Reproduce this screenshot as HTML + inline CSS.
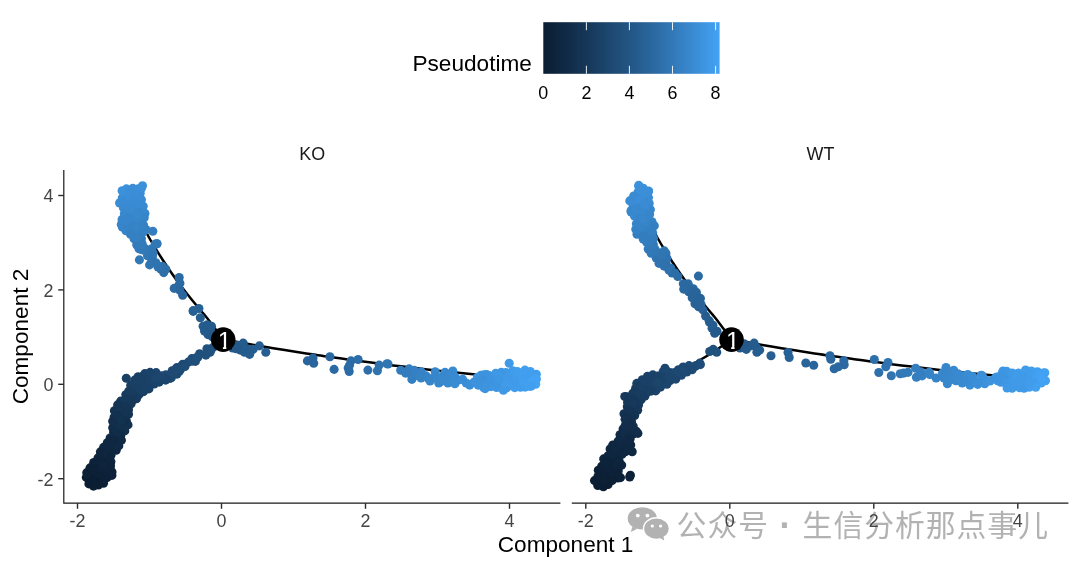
<!DOCTYPE html>
<html><head><meta charset="utf-8"><title>Trajectory</title>
<style>
html,body{margin:0;padding:0;background:#fff}
body{width:1080px;height:568px;overflow:hidden}
svg{display:block}
text{font-family:"Liberation Sans","Noto Sans CJK SC",sans-serif}
.at{font-size:17.9px;fill:#444}
.lt{font-size:17.9px;fill:#000}
.ti{font-size:22.6px;fill:#000}
.st{font-size:17.9px;fill:#1a1a1a}
.wm{font-size:29.8px;fill:#b2b2b2;font-family:"Liberation Sans","Noto Sans CJK SC",sans-serif;letter-spacing:1.0px}
</style></head><body>
<svg width="1080" height="568" viewBox="0 0 1080 568">
<defs><linearGradient id="g" x1="0" x2="1" y1="0" y2="0"><stop offset="0.000" stop-color="#0b1d32"/><stop offset="0.050" stop-color="#0d2239"/><stop offset="0.100" stop-color="#0f2741"/><stop offset="0.150" stop-color="#112c49"/><stop offset="0.200" stop-color="#143251"/><stop offset="0.250" stop-color="#163859"/><stop offset="0.300" stop-color="#193e62"/><stop offset="0.350" stop-color="#1b446b"/><stop offset="0.400" stop-color="#1e4a74"/><stop offset="0.450" stop-color="#21517e"/><stop offset="0.500" stop-color="#235787"/><stop offset="0.550" stop-color="#265e91"/><stop offset="0.600" stop-color="#29659c"/><stop offset="0.650" stop-color="#2c6ca6"/><stop offset="0.700" stop-color="#3074b1"/><stop offset="0.750" stop-color="#337bbc"/><stop offset="0.800" stop-color="#3683c7"/><stop offset="0.850" stop-color="#398bd2"/><stop offset="0.900" stop-color="#3d93de"/><stop offset="0.950" stop-color="#409be9"/><stop offset="1.000" stop-color="#44a3f5"/></linearGradient></defs>
<rect width="1080" height="568" fill="#fff"/>
<rect x="543.3" y="22.2" width="176.3" height="51.6" fill="url(#g)"/>
<path d="M586.4 22.2v8M586.4 73.8v-8" stroke="#fff" stroke-width="1" opacity="0.9"/>
<path d="M629.4 22.2v8M629.4 73.8v-8" stroke="#fff" stroke-width="1" opacity="0.9"/>
<path d="M672.5 22.2v8M672.5 73.8v-8" stroke="#fff" stroke-width="1" opacity="0.9"/>
<path d="M715.6 22.2v8M715.6 73.8v-8" stroke="#fff" stroke-width="1" opacity="0.9"/>
<text x="543.3" y="98.6" text-anchor="middle" class="lt">0</text>
<text x="586.4" y="98.6" text-anchor="middle" class="lt">2</text>
<text x="629.4" y="98.6" text-anchor="middle" class="lt">4</text>
<text x="672.5" y="98.6" text-anchor="middle" class="lt">6</text>
<text x="715.6" y="98.6" text-anchor="middle" class="lt">8</text>
<text x="412.5" y="70.7" class="ti">Pseudotime</text>
<text x="312.3" y="159.6" text-anchor="middle" class="st">KO</text>
<text x="820.5" y="159.6" text-anchor="middle" class="st">WT</text>
<g>
<g fill="#b2b2b2">
<ellipse cx="642.3" cy="518.4" rx="14.6" ry="11.2"/>
<path d="M632.5 526.5l-1.8 5.6 6.3-3z"/>
</g>
<ellipse cx="656.4" cy="528.6" rx="13.6" ry="11.6" fill="#fff"/>
<g fill="#b2b2b2">
<ellipse cx="656.4" cy="528.6" rx="12.2" ry="10.2"/>
<path d="M659 537.5l5.2 3 -1-5.5z"/>
</g>
<g fill="#fff"><circle cx="637.8" cy="515.6" r="1.9"/><circle cx="647.4" cy="515.6" r="1.9"/><circle cx="652.3" cy="526" r="1.6"/><circle cx="660.6" cy="526" r="1.6"/></g>
<text x="676.6" y="535.8" class="wm">公众号</text>
<text x="784.4" y="538.8" class="wm" text-anchor="middle" style="letter-spacing:0;font-size:52px">·</text>
<text x="802.6" y="535.8" class="wm">生信分析那点事儿</text>
</g>
<path d="M63.8 170V503.2H560.4" fill="none" stroke="#1a1a1a" stroke-width="1.2"/>
<path d="M571.8 503.2H1068.4" fill="none" stroke="#1a1a1a" stroke-width="1.2"/>
<path d="M58.2 478.7H63.8" stroke="#2b2b2b" stroke-width="1.4"/>
<text x="53.5" y="485.6" text-anchor="end" class="at">-2</text>
<path d="M77.5 503.2V508.8" stroke="#2b2b2b" stroke-width="1.4"/>
<text x="77.5" y="527.2" text-anchor="middle" class="at">-2</text>
<path d="M585.8 503.2V508.8" stroke="#2b2b2b" stroke-width="1.4"/>
<text x="585.8" y="527.2" text-anchor="middle" class="at">-2</text>
<path d="M58.2 384.3H63.8" stroke="#2b2b2b" stroke-width="1.4"/>
<text x="53.5" y="391.2" text-anchor="end" class="at">0</text>
<path d="M221.5 503.2V508.8" stroke="#2b2b2b" stroke-width="1.4"/>
<text x="221.5" y="527.2" text-anchor="middle" class="at">0</text>
<path d="M729.8 503.2V508.8" stroke="#2b2b2b" stroke-width="1.4"/>
<text x="729.8" y="527.2" text-anchor="middle" class="at">0</text>
<path d="M58.2 289.9H63.8" stroke="#2b2b2b" stroke-width="1.4"/>
<text x="53.5" y="296.8" text-anchor="end" class="at">2</text>
<path d="M365.5 503.2V508.8" stroke="#2b2b2b" stroke-width="1.4"/>
<text x="365.5" y="527.2" text-anchor="middle" class="at">2</text>
<path d="M873.8 503.2V508.8" stroke="#2b2b2b" stroke-width="1.4"/>
<text x="873.8" y="527.2" text-anchor="middle" class="at">2</text>
<path d="M58.2 195.5H63.8" stroke="#2b2b2b" stroke-width="1.4"/>
<text x="53.5" y="202.4" text-anchor="end" class="at">4</text>
<path d="M509.5 503.2V508.8" stroke="#2b2b2b" stroke-width="1.4"/>
<text x="509.5" y="527.2" text-anchor="middle" class="at">4</text>
<path d="M1017.8 503.2V508.8" stroke="#2b2b2b" stroke-width="1.4"/>
<text x="1017.8" y="527.2" text-anchor="middle" class="at">4</text>
<g><path fill="none" stroke="#000" stroke-width="2.5" d="M223.2 339.6C221.0 336.7 213.2 326.1 210.1 322.0C207.0 317.9 207.8 318.9 204.5 314.9C201.2 310.9 195.1 303.9 190.4 298.0C185.7 292.1 181.0 286.2 176.3 279.7C171.6 273.2 167.0 266.5 162.3 259.2C157.6 251.9 151.9 242.9 148.2 236.0C144.5 229.1 142.4 224.0 140.0 218.0C137.6 212.0 135.0 203.0 134.0 200.0"/>
<path fill="none" stroke="#000" stroke-width="2.5" d="M223.2 339.6C226.5 340.2 236.5 342.0 243.2 343.1C249.9 344.3 256.5 345.4 263.2 346.5C269.9 347.6 276.5 348.7 283.2 349.8C289.9 350.9 296.5 351.9 303.2 352.9C309.9 353.9 316.5 355.0 323.2 355.9C329.9 356.9 336.5 357.9 343.2 358.8C349.9 359.7 356.5 360.7 363.2 361.5C369.9 362.4 376.5 363.3 383.2 364.2C389.9 365.0 396.5 365.8 403.2 366.6C409.9 367.4 416.5 368.2 423.2 369.0C429.9 369.8 436.5 370.5 443.2 371.2C449.9 371.9 456.5 372.6 463.2 373.3C469.9 374.0 476.5 374.6 483.2 375.3C489.9 375.9 499.9 376.8 503.2 377.1"/>
<path fill="none" stroke="#000" stroke-width="2.5" d="M223.2 339.6C220.2 341.7 210.5 348.4 205.0 352.0C199.5 355.6 195.0 358.2 190.0 361.0C185.0 363.8 180.0 366.4 175.0 369.0C170.0 371.6 164.5 374.3 160.0 376.5C155.5 378.7 151.8 379.9 148.0 382.0C144.2 384.1 140.5 385.8 137.0 389.0C133.5 392.2 129.7 396.7 127.0 401.0C124.3 405.3 122.7 410.2 121.0 415.0C119.3 419.8 118.5 425.0 117.0 430.0C115.5 435.0 114.0 440.0 112.0 445.0C110.0 450.0 107.5 455.2 105.0 460.0C102.5 464.8 98.3 471.7 97.0 474.0"/>
<circle cx="136.7" cy="194.5" r="4.55" fill="#3b8ed6"/>
<circle cx="103.5" cy="483.2" r="4.55" fill="#0b1f35"/>
<circle cx="124.8" cy="430.9" r="4.55" fill="#13304e"/>
<circle cx="498.8" cy="374.6" r="4.55" fill="#3e97e4"/>
<circle cx="458.4" cy="380.1" r="4.55" fill="#3a8bd3"/>
<circle cx="104.1" cy="469.7" r="4.55" fill="#0d233b"/>
<circle cx="499.7" cy="377.4" r="4.55" fill="#3f98e5"/>
<circle cx="147.5" cy="255.7" r="4.55" fill="#3177b5"/>
<circle cx="137.5" cy="233.4" r="4.55" fill="#3582c5"/>
<circle cx="454.9" cy="376.6" r="4.55" fill="#398ad2"/>
<circle cx="208.0" cy="334.6" r="4.55" fill="#24598a"/>
<circle cx="135.6" cy="202.9" r="4.55" fill="#3a8cd4"/>
<circle cx="400.7" cy="370.3" r="4.55" fill="#337bbb"/>
<circle cx="116.8" cy="436.7" r="4.55" fill="#102a45"/>
<circle cx="501.3" cy="372.4" r="4.55" fill="#3f97e4"/>
<circle cx="152.8" cy="231.2" r="4.55" fill="#347ec0"/>
<circle cx="535.7" cy="384.3" r="4.55" fill="#43a3f5"/>
<circle cx="134.1" cy="238.8" r="4.55" fill="#347ec0"/>
<circle cx="351.0" cy="360.9" r="4.55" fill="#2c6ca6"/>
<circle cx="113.4" cy="438.0" r="4.55" fill="#112b46"/>
<circle cx="132.6" cy="389.7" r="4.55" fill="#183b5e"/>
<circle cx="96.7" cy="480.5" r="4.55" fill="#0c2036"/>
<circle cx="162.3" cy="266.3" r="4.55" fill="#2e71ac"/>
<circle cx="142.7" cy="247.4" r="4.55" fill="#327ab9"/>
<circle cx="177.0" cy="374.1" r="4.55" fill="#1e4973"/>
<circle cx="511.4" cy="373.9" r="4.55" fill="#409bea"/>
<circle cx="90.9" cy="476.5" r="4.55" fill="#0c2137"/>
<circle cx="138.8" cy="394.7" r="4.55" fill="#183c60"/>
<circle cx="132.4" cy="221.4" r="4.55" fill="#3683c7"/>
<circle cx="193.2" cy="311.4" r="4.55" fill="#276094"/>
<circle cx="114.1" cy="417.1" r="4.55" fill="#13304e"/>
<circle cx="138.6" cy="216.8" r="4.55" fill="#3786cb"/>
<circle cx="131.5" cy="212.9" r="4.55" fill="#3888cd"/>
<circle cx="131.6" cy="201.2" r="4.55" fill="#3a8cd4"/>
<circle cx="147.4" cy="375.4" r="4.55" fill="#1b446b"/>
<circle cx="122.1" cy="219.4" r="4.55" fill="#3786cb"/>
<circle cx="144.6" cy="248.3" r="4.55" fill="#3279b8"/>
<circle cx="203.1" cy="326.2" r="4.55" fill="#255b8d"/>
<circle cx="160.8" cy="269.1" r="4.55" fill="#2e70ac"/>
<circle cx="486.6" cy="374.5" r="4.55" fill="#3d94e0"/>
<circle cx="143.6" cy="391.6" r="4.55" fill="#193f64"/>
<circle cx="110.1" cy="438.0" r="4.55" fill="#112b47"/>
<circle cx="104.9" cy="455.3" r="4.55" fill="#0f2741"/>
<circle cx="98.6" cy="462.9" r="4.55" fill="#0d233a"/>
<circle cx="178.5" cy="286.0" r="4.55" fill="#2b69a1"/>
<circle cx="132.9" cy="191.0" r="4.55" fill="#3c92dc"/>
<circle cx="409.1" cy="368.9" r="4.55" fill="#347ebf"/>
<circle cx="518.7" cy="383.7" r="4.55" fill="#419ceb"/>
<circle cx="100.3" cy="473.4" r="4.55" fill="#0d2138"/>
<circle cx="525.1" cy="387.1" r="4.55" fill="#429fef"/>
<circle cx="145.9" cy="229.5" r="4.55" fill="#3580c2"/>
<circle cx="157.0" cy="243.8" r="4.55" fill="#3178b6"/>
<circle cx="481.0" cy="375.2" r="4.55" fill="#3d93de"/>
<circle cx="126.8" cy="211.1" r="4.55" fill="#3888cf"/>
<circle cx="514.7" cy="387.6" r="4.55" fill="#419ceb"/>
<circle cx="142.1" cy="243.6" r="4.55" fill="#337cbd"/>
<circle cx="124.4" cy="220.4" r="4.55" fill="#3887cc"/>
<circle cx="136.0" cy="209.5" r="4.55" fill="#398ad1"/>
<circle cx="208.7" cy="330.4" r="4.55" fill="#245a8b"/>
<circle cx="107.8" cy="459.6" r="4.55" fill="#0e243d"/>
<circle cx="132.3" cy="224.6" r="4.55" fill="#3785ca"/>
<circle cx="109.5" cy="460.9" r="4.55" fill="#0e253e"/>
<circle cx="536.3" cy="374.3" r="4.55" fill="#419eee"/>
<circle cx="125.4" cy="223.9" r="4.55" fill="#3683c7"/>
<circle cx="118.6" cy="411.3" r="4.55" fill="#143352"/>
<circle cx="506.7" cy="385.1" r="4.55" fill="#3f98e5"/>
<circle cx="469.7" cy="385.1" r="4.55" fill="#3b8fd8"/>
<circle cx="504.1" cy="381.1" r="4.55" fill="#3f97e4"/>
<circle cx="179.9" cy="283.2" r="4.55" fill="#2b69a1"/>
<circle cx="153.4" cy="379.6" r="4.55" fill="#1b446b"/>
<circle cx="179.2" cy="277.5" r="4.55" fill="#2c6aa3"/>
<circle cx="128.7" cy="192.9" r="4.55" fill="#3b8ed6"/>
<circle cx="125.6" cy="216.4" r="4.55" fill="#3786cb"/>
<circle cx="529.0" cy="386.2" r="4.55" fill="#42a0f0"/>
<circle cx="495.0" cy="385.4" r="4.55" fill="#3d94e0"/>
<circle cx="533.2" cy="376.7" r="4.55" fill="#43a2f3"/>
<circle cx="100.8" cy="467.0" r="4.55" fill="#0d2239"/>
<circle cx="127.6" cy="226.6" r="4.55" fill="#3683c7"/>
<circle cx="509.2" cy="383.6" r="4.55" fill="#409bea"/>
<circle cx="127.7" cy="398.9" r="4.55" fill="#173b5e"/>
<circle cx="411.9" cy="375.9" r="4.55" fill="#347fc1"/>
<circle cx="123.9" cy="416.1" r="4.55" fill="#143352"/>
<circle cx="210.8" cy="350.1" r="4.55" fill="#21517f"/>
<circle cx="199.6" cy="353.7" r="4.55" fill="#204f7b"/>
<circle cx="506.7" cy="379.0" r="4.55" fill="#409ae8"/>
<circle cx="141.4" cy="238.7" r="4.55" fill="#337dbe"/>
<circle cx="136.8" cy="206.6" r="4.55" fill="#3889cf"/>
<circle cx="138.1" cy="393.4" r="4.55" fill="#193e62"/>
<circle cx="176.8" cy="367.6" r="4.55" fill="#1e4b75"/>
<circle cx="171.4" cy="377.6" r="4.55" fill="#1d4871"/>
<circle cx="434.5" cy="377.3" r="4.55" fill="#3786cb"/>
<circle cx="118.8" cy="445.9" r="4.55" fill="#102944"/>
<circle cx="130.4" cy="217.8" r="4.55" fill="#3887cc"/>
<circle cx="137.1" cy="201.3" r="4.55" fill="#3a8dd5"/>
<circle cx="120.1" cy="431.9" r="4.55" fill="#112c48"/>
<circle cx="136.7" cy="195.7" r="4.55" fill="#3b8ed7"/>
<circle cx="138.9" cy="388.9" r="4.55" fill="#193e63"/>
<circle cx="134.5" cy="191.2" r="4.55" fill="#3a8ed6"/>
<circle cx="120.6" cy="403.9" r="4.55" fill="#163758"/>
<circle cx="179.3" cy="371.3" r="4.55" fill="#1e4b76"/>
<circle cx="438.7" cy="383.0" r="4.55" fill="#3887cc"/>
<circle cx="122.4" cy="411.0" r="4.55" fill="#153555"/>
<circle cx="496.6" cy="384.0" r="4.55" fill="#3e97e4"/>
<circle cx="90.0" cy="471.1" r="4.55" fill="#0d2138"/>
<circle cx="240.4" cy="350.1" r="4.55" fill="#255a8c"/>
<circle cx="525.9" cy="379.6" r="4.55" fill="#419eee"/>
<circle cx="142.5" cy="185.8" r="4.55" fill="#3c90da"/>
<circle cx="129.8" cy="204.0" r="4.55" fill="#3a8bd3"/>
<circle cx="128.5" cy="409.8" r="4.55" fill="#153454"/>
<circle cx="127.7" cy="407.0" r="4.55" fill="#153657"/>
<circle cx="144.9" cy="376.4" r="4.55" fill="#1b436a"/>
<circle cx="512.8" cy="370.8" r="4.55" fill="#409be9"/>
<circle cx="211.5" cy="326.2" r="4.55" fill="#245a8b"/>
<circle cx="130.6" cy="198.9" r="4.55" fill="#3a8cd3"/>
<circle cx="170.0" cy="375.2" r="4.55" fill="#1d4770"/>
<circle cx="514.0" cy="376.9" r="4.55" fill="#419ceb"/>
<circle cx="520.5" cy="387.2" r="4.55" fill="#419ded"/>
<circle cx="135.1" cy="230.5" r="4.55" fill="#3581c4"/>
<circle cx="125.2" cy="423.5" r="4.55" fill="#122f4d"/>
<circle cx="519.5" cy="380.3" r="4.55" fill="#419ded"/>
<circle cx="172.2" cy="370.8" r="4.55" fill="#1d4770"/>
<circle cx="117.6" cy="417.1" r="4.55" fill="#133250"/>
<circle cx="518.0" cy="385.4" r="4.55" fill="#419ceb"/>
<circle cx="120.7" cy="401.1" r="4.55" fill="#16385a"/>
<circle cx="485.1" cy="381.1" r="4.55" fill="#3d94df"/>
<circle cx="134.6" cy="237.8" r="4.55" fill="#347ec0"/>
<circle cx="479.3" cy="380.4" r="4.55" fill="#3c92dc"/>
<circle cx="93.7" cy="462.5" r="4.55" fill="#0d223a"/>
<circle cx="407.0" cy="371.5" r="4.55" fill="#347dbe"/>
<circle cx="441.0" cy="381.5" r="4.55" fill="#3887cd"/>
<circle cx="140.5" cy="383.9" r="4.55" fill="#1a4167"/>
<circle cx="102.8" cy="461.4" r="4.55" fill="#0d233b"/>
<circle cx="98.0" cy="457.9" r="4.55" fill="#0e253d"/>
<circle cx="133.2" cy="199.2" r="4.55" fill="#3a8cd4"/>
<circle cx="496.6" cy="387.5" r="4.55" fill="#3e96e3"/>
<circle cx="117.8" cy="442.1" r="4.55" fill="#102843"/>
<circle cx="139.0" cy="209.6" r="4.55" fill="#3889cf"/>
<circle cx="490.0" cy="378.3" r="4.55" fill="#3d95e0"/>
<circle cx="200.3" cy="317.7" r="4.55" fill="#265e90"/>
<circle cx="481.1" cy="384.5" r="4.55" fill="#3d94df"/>
<circle cx="122.3" cy="227.1" r="4.55" fill="#3683c7"/>
<circle cx="232.7" cy="348.0" r="4.55" fill="#245989"/>
<circle cx="188.3" cy="362.1" r="4.55" fill="#1f4c78"/>
<circle cx="265.8" cy="352.3" r="4.55" fill="#275f92"/>
<circle cx="138.3" cy="188.7" r="4.55" fill="#3c90da"/>
<circle cx="136.9" cy="244.5" r="4.55" fill="#337cbc"/>
<circle cx="136.3" cy="224.2" r="4.55" fill="#3582c5"/>
<circle cx="139.7" cy="235.7" r="4.55" fill="#347ebf"/>
<circle cx="95.9" cy="474.9" r="4.55" fill="#0c2137"/>
<circle cx="527.6" cy="377.1" r="4.55" fill="#429fef"/>
<circle cx="477.4" cy="377.4" r="4.55" fill="#3d94df"/>
<circle cx="377.4" cy="370.8" r="4.55" fill="#2f73af"/>
<circle cx="107.1" cy="475.5" r="4.55" fill="#0d223a"/>
<circle cx="93.0" cy="474.8" r="4.55" fill="#0c2036"/>
<circle cx="113.6" cy="432.3" r="4.55" fill="#112b46"/>
<circle cx="367.9" cy="370.1" r="4.55" fill="#2e6faa"/>
<circle cx="101.9" cy="473.1" r="4.55" fill="#0c2137"/>
<circle cx="165.8" cy="269.1" r="4.55" fill="#2e6faa"/>
<circle cx="139.7" cy="238.1" r="4.55" fill="#347ebf"/>
<circle cx="141.4" cy="199.8" r="4.55" fill="#398bd3"/>
<circle cx="109.6" cy="464.7" r="4.55" fill="#0e243c"/>
<circle cx="103.6" cy="447.4" r="4.55" fill="#102843"/>
<circle cx="508.9" cy="374.6" r="4.55" fill="#3f99e7"/>
<circle cx="348.2" cy="368.0" r="4.55" fill="#2c6ca5"/>
<circle cx="428.1" cy="378.0" r="4.55" fill="#3684c8"/>
<circle cx="140.2" cy="193.3" r="4.55" fill="#3a8dd5"/>
<circle cx="114.4" cy="410.8" r="4.55" fill="#143352"/>
<circle cx="131.7" cy="226.8" r="4.55" fill="#3581c4"/>
<circle cx="473.9" cy="382.3" r="4.55" fill="#3c91da"/>
<circle cx="140.8" cy="249.3" r="4.55" fill="#327aba"/>
<circle cx="405.6" cy="373.1" r="4.55" fill="#337dbe"/>
<circle cx="112.5" cy="450.5" r="4.55" fill="#0f2740"/>
<circle cx="116.8" cy="418.7" r="4.55" fill="#13314f"/>
<circle cx="132.4" cy="230.1" r="4.55" fill="#3581c4"/>
<circle cx="126.4" cy="188.9" r="4.55" fill="#3c92dc"/>
<circle cx="484.6" cy="377.5" r="4.55" fill="#3d94e0"/>
<circle cx="138.0" cy="218.5" r="4.55" fill="#3786ca"/>
<circle cx="132.1" cy="189.9" r="4.55" fill="#3b8fd8"/>
<circle cx="132.6" cy="397.2" r="4.55" fill="#173a5c"/>
<circle cx="118.6" cy="407.4" r="4.55" fill="#153454"/>
<circle cx="144.8" cy="373.6" r="4.55" fill="#1b436a"/>
<circle cx="329.9" cy="356.7" r="4.55" fill="#2b68a0"/>
<circle cx="172.1" cy="372.0" r="4.55" fill="#1d4972"/>
<circle cx="531.5" cy="375.8" r="4.55" fill="#429fef"/>
<circle cx="481.5" cy="377.8" r="4.55" fill="#3e95e1"/>
<circle cx="182.7" cy="366.6" r="4.55" fill="#1f4c77"/>
<circle cx="447.9" cy="383.0" r="4.55" fill="#3889cf"/>
<circle cx="520.9" cy="378.1" r="4.55" fill="#429fef"/>
<circle cx="530.6" cy="383.1" r="4.55" fill="#43a1f2"/>
<circle cx="153.3" cy="383.0" r="4.55" fill="#1b436a"/>
<circle cx="159.2" cy="382.1" r="4.55" fill="#1b446b"/>
<circle cx="115.3" cy="448.2" r="4.55" fill="#0f2842"/>
<circle cx="142.9" cy="380.1" r="4.55" fill="#1b4269"/>
<circle cx="126.3" cy="378.2" r="4.55" fill="#193f64"/>
<circle cx="426.0" cy="375.9" r="4.55" fill="#3684c8"/>
<circle cx="502.2" cy="381.8" r="4.55" fill="#409ae8"/>
<circle cx="96.7" cy="477.0" r="4.55" fill="#0c2036"/>
<circle cx="86.8" cy="472.6" r="4.55" fill="#0c2037"/>
<circle cx="149.6" cy="264.9" r="4.55" fill="#3074b1"/>
<circle cx="118.5" cy="426.8" r="4.55" fill="#122f4c"/>
<circle cx="119.6" cy="203.0" r="4.55" fill="#3a8cd3"/>
<circle cx="130.5" cy="401.9" r="4.55" fill="#16385a"/>
<circle cx="313.0" cy="358.1" r="4.55" fill="#2a669d"/>
<circle cx="128.5" cy="414.2" r="4.55" fill="#143352"/>
<circle cx="510.3" cy="380.2" r="4.55" fill="#409bea"/>
<circle cx="144.9" cy="213.4" r="4.55" fill="#3785ca"/>
<circle cx="168.5" cy="375.6" r="4.55" fill="#1c476f"/>
<circle cx="106.6" cy="451.5" r="4.55" fill="#0e263f"/>
<circle cx="121.3" cy="224.4" r="4.55" fill="#3784c9"/>
<circle cx="151.7" cy="261.4" r="4.55" fill="#3074b1"/>
<circle cx="513.6" cy="373.4" r="4.55" fill="#409be9"/>
<circle cx="93.4" cy="471.6" r="4.55" fill="#0c2137"/>
<circle cx="501.6" cy="385.0" r="4.55" fill="#3e96e3"/>
<circle cx="129.8" cy="230.6" r="4.55" fill="#3683c6"/>
<circle cx="120.1" cy="202.6" r="4.55" fill="#3a8cd3"/>
<circle cx="122.3" cy="198.0" r="4.55" fill="#398bd2"/>
<circle cx="108.1" cy="446.4" r="4.55" fill="#0f2740"/>
<circle cx="112.7" cy="427.8" r="4.55" fill="#122d4a"/>
<circle cx="126.1" cy="198.3" r="4.55" fill="#3b90d9"/>
<circle cx="144.2" cy="217.8" r="4.55" fill="#3684c8"/>
<circle cx="111.3" cy="443.7" r="4.55" fill="#102843"/>
<circle cx="100.7" cy="481.7" r="4.55" fill="#0c1f35"/>
<circle cx="205.9" cy="355.1" r="4.55" fill="#20507d"/>
<circle cx="486.8" cy="377.1" r="4.55" fill="#3e96e2"/>
<circle cx="107.1" cy="477.6" r="4.55" fill="#0c2138"/>
<circle cx="128.4" cy="207.4" r="4.55" fill="#398ad0"/>
<circle cx="136.6" cy="211.5" r="4.55" fill="#3888ce"/>
<circle cx="141.1" cy="380.7" r="4.55" fill="#1a4167"/>
<circle cx="139.0" cy="225.4" r="4.55" fill="#3683c6"/>
<circle cx="138.3" cy="378.9" r="4.55" fill="#193f64"/>
<circle cx="118.1" cy="422.8" r="4.55" fill="#122f4c"/>
<circle cx="485.2" cy="388.6" r="4.55" fill="#3d93dd"/>
<circle cx="523.9" cy="376.1" r="4.55" fill="#419eed"/>
<circle cx="492.2" cy="377.2" r="4.55" fill="#3d93de"/>
<circle cx="157.6" cy="378.8" r="4.55" fill="#1c476f"/>
<circle cx="421.1" cy="371.7" r="4.55" fill="#3682c6"/>
<circle cx="147.8" cy="385.5" r="4.55" fill="#1b4369"/>
<circle cx="132.2" cy="205.5" r="4.55" fill="#3989d0"/>
<circle cx="211.5" cy="333.2" r="4.55" fill="#245989"/>
<circle cx="505.2" cy="377.2" r="4.55" fill="#3f99e7"/>
<circle cx="136.3" cy="388.5" r="4.55" fill="#193e63"/>
<circle cx="127.0" cy="403.8" r="4.55" fill="#16385a"/>
<circle cx="198.9" cy="308.5" r="4.55" fill="#276094"/>
<circle cx="121.6" cy="416.6" r="4.55" fill="#13314f"/>
<circle cx="388.0" cy="364.0" r="4.55" fill="#3076b4"/>
<circle cx="123.0" cy="204.1" r="4.55" fill="#3a8cd4"/>
<circle cx="105.8" cy="455.5" r="4.55" fill="#0e253d"/>
<circle cx="121.7" cy="427.1" r="4.55" fill="#122f4c"/>
<circle cx="133.5" cy="391.2" r="4.55" fill="#183d60"/>
<circle cx="123.9" cy="195.0" r="4.55" fill="#3b8ed6"/>
<circle cx="476.2" cy="382.5" r="4.55" fill="#3d93dd"/>
<circle cx="130.7" cy="205.7" r="4.55" fill="#398bd2"/>
<circle cx="128.0" cy="424.9" r="4.55" fill="#13304e"/>
<circle cx="140.8" cy="222.2" r="4.55" fill="#3581c5"/>
<circle cx="182.7" cy="295.2" r="4.55" fill="#2a669c"/>
<circle cx="132.3" cy="393.8" r="4.55" fill="#183c5f"/>
<circle cx="137.5" cy="390.7" r="4.55" fill="#183d61"/>
<circle cx="134.6" cy="234.7" r="4.55" fill="#3580c2"/>
<circle cx="148.4" cy="382.4" r="4.55" fill="#1a4167"/>
<circle cx="517.7" cy="374.2" r="4.55" fill="#419eee"/>
<circle cx="253.1" cy="349.4" r="4.55" fill="#265d90"/>
<circle cx="503.3" cy="388.0" r="4.55" fill="#409ae8"/>
<circle cx="138.6" cy="196.9" r="4.55" fill="#3a8dd6"/>
<circle cx="152.4" cy="257.1" r="4.55" fill="#3075b3"/>
<circle cx="349.6" cy="365.1" r="4.55" fill="#2c6ca6"/>
<circle cx="128.3" cy="192.8" r="4.55" fill="#3b8fd8"/>
<circle cx="181.7" cy="366.0" r="4.55" fill="#1e4b75"/>
<circle cx="120.8" cy="414.0" r="4.55" fill="#143352"/>
<circle cx="108.0" cy="458.0" r="4.55" fill="#0e253e"/>
<circle cx="182.7" cy="364.2" r="4.55" fill="#1e4b76"/>
<circle cx="441.5" cy="377.3" r="4.55" fill="#3887cd"/>
<circle cx="134.4" cy="383.7" r="4.55" fill="#1a4166"/>
<circle cx="141.4" cy="188.2" r="4.55" fill="#3b90da"/>
<circle cx="129.7" cy="396.0" r="4.55" fill="#173a5d"/>
<circle cx="528.5" cy="373.2" r="4.55" fill="#429fef"/>
<circle cx="141.6" cy="207.4" r="4.55" fill="#3a8cd3"/>
<circle cx="417.6" cy="374.5" r="4.55" fill="#3581c4"/>
<circle cx="206.9" cy="348.7" r="4.55" fill="#21517e"/>
<circle cx="99.2" cy="480.1" r="4.55" fill="#0b1e33"/>
<circle cx="170.2" cy="378.4" r="4.55" fill="#1d4871"/>
<circle cx="204.5" cy="331.1" r="4.55" fill="#255a8c"/>
<circle cx="491.0" cy="379.9" r="4.55" fill="#3e95e1"/>
<circle cx="106.4" cy="448.5" r="4.55" fill="#0f2740"/>
<circle cx="244.6" cy="352.3" r="4.55" fill="#255c8e"/>
<circle cx="126.5" cy="222.1" r="4.55" fill="#3683c6"/>
<circle cx="142.4" cy="376.6" r="4.55" fill="#1a4268"/>
<circle cx="174.5" cy="373.6" r="4.55" fill="#1d4973"/>
<circle cx="154.2" cy="384.0" r="4.55" fill="#1b436a"/>
<circle cx="452.8" cy="371.0" r="4.55" fill="#398ad1"/>
<circle cx="445.0" cy="372.4" r="4.55" fill="#3888ce"/>
<circle cx="492.1" cy="382.3" r="4.55" fill="#3e96e2"/>
<circle cx="387.0" cy="363.7" r="4.55" fill="#3076b3"/>
<circle cx="249.6" cy="354.4" r="4.55" fill="#265d8f"/>
<circle cx="135.0" cy="393.9" r="4.55" fill="#183c5f"/>
<circle cx="86.3" cy="477.4" r="4.55" fill="#0c1f35"/>
<circle cx="141.4" cy="388.1" r="4.55" fill="#193f65"/>
<circle cx="116.1" cy="427.9" r="4.55" fill="#112d49"/>
<circle cx="191.8" cy="358.6" r="4.55" fill="#1f4d79"/>
<circle cx="516.8" cy="377.7" r="4.55" fill="#409ae9"/>
<circle cx="133.1" cy="385.1" r="4.55" fill="#193e63"/>
<circle cx="127.0" cy="223.3" r="4.55" fill="#3682c6"/>
<circle cx="506.9" cy="387.6" r="4.55" fill="#3f98e6"/>
<circle cx="466.2" cy="383.0" r="4.55" fill="#3b8ed7"/>
<circle cx="505.9" cy="372.5" r="4.55" fill="#3f99e7"/>
<circle cx="97.5" cy="471.5" r="4.55" fill="#0c2138"/>
<circle cx="122.1" cy="190.7" r="4.55" fill="#3c91db"/>
<circle cx="134.7" cy="190.6" r="4.55" fill="#3c90da"/>
<circle cx="530.1" cy="376.0" r="4.55" fill="#43a2f3"/>
<circle cx="488.9" cy="375.5" r="4.55" fill="#3d94e0"/>
<circle cx="421.1" cy="378.0" r="4.55" fill="#3683c6"/>
<circle cx="136.5" cy="398.7" r="4.55" fill="#173b5e"/>
<circle cx="119.4" cy="406.1" r="4.55" fill="#163758"/>
<circle cx="499.1" cy="386.8" r="4.55" fill="#3e96e3"/>
<circle cx="132.7" cy="210.1" r="4.55" fill="#3888cf"/>
<circle cx="126.4" cy="421.1" r="4.55" fill="#13314f"/>
<circle cx="509.2" cy="363.2" r="4.55" fill="#409ae8"/>
<circle cx="126.0" cy="230.8" r="4.55" fill="#3683c7"/>
<circle cx="152.5" cy="376.5" r="4.55" fill="#1b4369"/>
<circle cx="505.0" cy="375.1" r="4.55" fill="#409ae8"/>
<circle cx="139.0" cy="229.3" r="4.55" fill="#3581c3"/>
<circle cx="526.9" cy="380.8" r="4.55" fill="#419eee"/>
<circle cx="129.7" cy="220.1" r="4.55" fill="#3786cb"/>
<circle cx="515.8" cy="379.1" r="4.55" fill="#409bea"/>
<circle cx="125.2" cy="407.3" r="4.55" fill="#153657"/>
<circle cx="115.7" cy="420.3" r="4.55" fill="#13304e"/>
<circle cx="102.9" cy="469.2" r="4.55" fill="#0d233b"/>
<circle cx="496.5" cy="379.7" r="4.55" fill="#3e95e1"/>
<circle cx="139.4" cy="382.1" r="4.55" fill="#1a4167"/>
<circle cx="98.3" cy="485.0" r="4.55" fill="#0b1e33"/>
<circle cx="138.1" cy="376.7" r="4.55" fill="#193f64"/>
<circle cx="198.0" cy="357.0" r="4.55" fill="#204f7b"/>
<circle cx="174.2" cy="288.4" r="4.55" fill="#2b69a1"/>
<circle cx="483.8" cy="387.9" r="4.55" fill="#3d94df"/>
<circle cx="163.7" cy="272.6" r="4.55" fill="#2e6faa"/>
<circle cx="156.9" cy="243.7" r="4.55" fill="#3178b6"/>
<circle cx="125.8" cy="394.7" r="4.55" fill="#17395c"/>
<circle cx="99.4" cy="461.6" r="4.55" fill="#0d223a"/>
<circle cx="486.9" cy="379.9" r="4.55" fill="#3e95e1"/>
<circle cx="450.0" cy="376.6" r="4.55" fill="#3989d0"/>
<circle cx="146.7" cy="380.1" r="4.55" fill="#1b4269"/>
<circle cx="133.3" cy="399.9" r="4.55" fill="#173a5c"/>
<circle cx="108.8" cy="451.1" r="4.55" fill="#0f2740"/>
<circle cx="529.6" cy="381.3" r="4.55" fill="#429ff0"/>
<circle cx="430.0" cy="381.0" r="4.55" fill="#3785c9"/>
<circle cx="122.6" cy="403.5" r="4.55" fill="#163859"/>
<circle cx="96.7" cy="465.1" r="4.55" fill="#0d223a"/>
<circle cx="122.8" cy="405.3" r="4.55" fill="#153657"/>
<circle cx="484.8" cy="384.4" r="4.55" fill="#3e95e1"/>
<circle cx="143.5" cy="231.9" r="4.55" fill="#3580c2"/>
<circle cx="515.7" cy="373.6" r="4.55" fill="#419dec"/>
<circle cx="89.0" cy="475.2" r="4.55" fill="#0c1f36"/>
<circle cx="313.7" cy="363.3" r="4.55" fill="#2a669d"/>
<circle cx="193.2" cy="310.6" r="4.55" fill="#276094"/>
<circle cx="100.3" cy="468.6" r="4.55" fill="#0d233a"/>
<circle cx="516.2" cy="386.7" r="4.55" fill="#419ded"/>
<circle cx="502.1" cy="374.1" r="4.55" fill="#3e96e3"/>
<circle cx="125.6" cy="220.6" r="4.55" fill="#3786cc"/>
<circle cx="94.7" cy="465.0" r="4.55" fill="#0d223a"/>
<circle cx="165.9" cy="374.9" r="4.55" fill="#1e4973"/>
<circle cx="164.7" cy="377.6" r="4.55" fill="#1c466f"/>
<circle cx="123.5" cy="422.9" r="4.55" fill="#122e4b"/>
<circle cx="479.6" cy="382.6" r="4.55" fill="#3d93de"/>
<circle cx="116.7" cy="423.6" r="4.55" fill="#122e4b"/>
<circle cx="130.7" cy="385.3" r="4.55" fill="#193f63"/>
<circle cx="116.3" cy="430.9" r="4.55" fill="#122d4a"/>
<circle cx="127.9" cy="210.2" r="4.55" fill="#3989d0"/>
<circle cx="130.1" cy="190.2" r="4.55" fill="#3b8fd9"/>
<circle cx="124.7" cy="416.2" r="4.55" fill="#143352"/>
<circle cx="150.1" cy="378.6" r="4.55" fill="#1b4269"/>
<circle cx="128.7" cy="391.3" r="4.55" fill="#183c5f"/>
<circle cx="522.6" cy="379.6" r="4.55" fill="#429eee"/>
<circle cx="93.5" cy="486.1" r="4.55" fill="#0c1f35"/>
<circle cx="111.5" cy="449.4" r="4.55" fill="#0f2740"/>
<circle cx="517.3" cy="371.5" r="4.55" fill="#419eed"/>
<circle cx="126.8" cy="205.0" r="4.55" fill="#398bd2"/>
<circle cx="112.7" cy="421.2" r="4.55" fill="#122e4b"/>
<circle cx="164.0" cy="378.6" r="4.55" fill="#1c466e"/>
<circle cx="129.1" cy="203.3" r="4.55" fill="#3a8cd3"/>
<circle cx="532.9" cy="380.7" r="4.55" fill="#43a3f5"/>
<circle cx="97.4" cy="465.1" r="4.55" fill="#0d243c"/>
<circle cx="151.7" cy="248.7" r="4.55" fill="#3178b6"/>
<circle cx="454.9" cy="383.7" r="4.55" fill="#398bd2"/>
<circle cx="495.7" cy="373.4" r="4.55" fill="#3f98e4"/>
<circle cx="117.6" cy="404.9" r="4.55" fill="#153454"/>
<circle cx="142.2" cy="210.4" r="4.55" fill="#3889cf"/>
<circle cx="158.0" cy="267.0" r="4.55" fill="#2f72ad"/>
<circle cx="212.3" cy="336.8" r="4.55" fill="#245889"/>
<circle cx="236.2" cy="348.7" r="4.55" fill="#24598a"/>
<circle cx="520.3" cy="382.6" r="4.55" fill="#419dec"/>
<circle cx="156.9" cy="376.0" r="4.55" fill="#1c466e"/>
<circle cx="140.1" cy="207.5" r="4.55" fill="#398bd2"/>
<circle cx="531.1" cy="386.2" r="4.55" fill="#429ff0"/>
<circle cx="156.1" cy="372.6" r="4.55" fill="#1c456d"/>
<circle cx="110.9" cy="461.7" r="4.55" fill="#0e253e"/>
<circle cx="175.6" cy="369.2" r="4.55" fill="#1e4a73"/>
<circle cx="140.7" cy="390.3" r="4.55" fill="#193e63"/>
<circle cx="483.8" cy="374.7" r="4.55" fill="#3d93de"/>
<circle cx="106.5" cy="466.5" r="4.55" fill="#0d243c"/>
<circle cx="508.6" cy="382.8" r="4.55" fill="#409cea"/>
<circle cx="100.8" cy="476.7" r="4.55" fill="#0c2137"/>
<circle cx="379.2" cy="365.1" r="4.55" fill="#2f73af"/>
<circle cx="107.5" cy="472.5" r="4.55" fill="#0d2239"/>
<circle cx="508.0" cy="381.2" r="4.55" fill="#409be9"/>
<circle cx="89.1" cy="480.1" r="4.55" fill="#0b1e33"/>
<circle cx="148.8" cy="386.2" r="4.55" fill="#1b4369"/>
<circle cx="94.9" cy="469.9" r="4.55" fill="#0c2037"/>
<circle cx="103.9" cy="476.0" r="4.55" fill="#0c2036"/>
<circle cx="123.1" cy="420.5" r="4.55" fill="#122f4d"/>
<circle cx="116.2" cy="450.2" r="4.55" fill="#0f2741"/>
<circle cx="112.0" cy="471.9" r="4.55" fill="#0d233a"/>
<circle cx="192.4" cy="361.1" r="4.55" fill="#1f4e7a"/>
<circle cx="139.0" cy="248.7" r="4.55" fill="#327aba"/>
<circle cx="486.9" cy="382.3" r="4.55" fill="#3d94df"/>
<circle cx="112.5" cy="440.0" r="4.55" fill="#102943"/>
<circle cx="135.5" cy="219.1" r="4.55" fill="#3785ca"/>
<circle cx="103.5" cy="458.1" r="4.55" fill="#0e243c"/>
<circle cx="109.6" cy="473.2" r="4.55" fill="#0d2239"/>
<circle cx="134.2" cy="216.6" r="4.55" fill="#3786cc"/>
<circle cx="136.9" cy="221.2" r="4.55" fill="#3786cb"/>
<circle cx="349.2" cy="371.5" r="4.55" fill="#2c6ca6"/>
<circle cx="131.1" cy="403.8" r="4.55" fill="#163758"/>
<circle cx="150.8" cy="382.4" r="4.55" fill="#1b4269"/>
<circle cx="143.2" cy="206.2" r="4.55" fill="#398ad0"/>
<circle cx="126.0" cy="399.1" r="4.55" fill="#16395b"/>
<circle cx="120.2" cy="426.2" r="4.55" fill="#122f4d"/>
<circle cx="138.3" cy="235.9" r="4.55" fill="#347ebf"/>
<circle cx="207.3" cy="324.8" r="4.55" fill="#255b8c"/>
<circle cx="140.2" cy="233.2" r="4.55" fill="#3580c2"/>
<circle cx="100.2" cy="468.1" r="4.55" fill="#0d2239"/>
<circle cx="503.4" cy="390.3" r="4.55" fill="#3f98e5"/>
<circle cx="111.9" cy="475.4" r="4.55" fill="#0d223a"/>
<circle cx="148.9" cy="388.9" r="4.55" fill="#1a4268"/>
<circle cx="137.1" cy="245.2" r="4.55" fill="#337bbc"/>
<circle cx="116.4" cy="444.9" r="4.55" fill="#102944"/>
<circle cx="91.3" cy="481.9" r="4.55" fill="#0b1e33"/>
<circle cx="130.6" cy="216.1" r="4.55" fill="#3887cd"/>
<circle cx="116.5" cy="415.6" r="4.55" fill="#13304e"/>
<circle cx="179.9" cy="290.2" r="4.55" fill="#2a679f"/>
<circle cx="155.3" cy="377.6" r="4.55" fill="#1c466f"/>
<circle cx="107.3" cy="442.7" r="4.55" fill="#0f2842"/>
<circle cx="102.1" cy="463.1" r="4.55" fill="#0d233a"/>
<circle cx="505.4" cy="382.9" r="4.55" fill="#409ceb"/>
<circle cx="110.5" cy="466.0" r="4.55" fill="#0d233a"/>
<circle cx="143.2" cy="390.1" r="4.55" fill="#194065"/>
<circle cx="490.8" cy="386.6" r="4.55" fill="#3e95e1"/>
<circle cx="106.2" cy="464.0" r="4.55" fill="#0d233b"/>
<circle cx="120.7" cy="435.7" r="4.55" fill="#112c48"/>
<circle cx="139.9" cy="212.5" r="4.55" fill="#3786cb"/>
<circle cx="161.8" cy="375.9" r="4.55" fill="#1d4770"/>
<circle cx="139.9" cy="228.6" r="4.55" fill="#3581c4"/>
<circle cx="481.5" cy="379.7" r="4.55" fill="#3c91db"/>
<circle cx="126.0" cy="203.5" r="4.55" fill="#3a8cd3"/>
<circle cx="118.1" cy="439.8" r="4.55" fill="#112b47"/>
<circle cx="210.1" cy="352.3" r="4.55" fill="#21517e"/>
<circle cx="115.2" cy="439.3" r="4.55" fill="#102a46"/>
<circle cx="180.6" cy="369.2" r="4.55" fill="#1e4b75"/>
<circle cx="419.0" cy="376.0" r="4.55" fill="#3582c5"/>
<circle cx="90.0" cy="467.9" r="4.55" fill="#0c2037"/>
<circle cx="125.8" cy="406.0" r="4.55" fill="#153656"/>
<circle cx="195.4" cy="361.4" r="4.55" fill="#1f4e79"/>
<circle cx="139.6" cy="241.9" r="4.55" fill="#337bbb"/>
<circle cx="307.4" cy="360.9" r="4.55" fill="#29659c"/>
<circle cx="95.3" cy="477.0" r="4.55" fill="#0c2137"/>
<circle cx="334.1" cy="369.4" r="4.55" fill="#2b6aa2"/>
<circle cx="126.3" cy="199.0" r="4.55" fill="#398bd3"/>
<circle cx="117.8" cy="433.7" r="4.55" fill="#112c48"/>
<circle cx="530.3" cy="371.5" r="4.55" fill="#429fef"/>
<circle cx="496.0" cy="383.2" r="4.55" fill="#3d95e0"/>
<circle cx="144.1" cy="386.4" r="4.55" fill="#1a4268"/>
<circle cx="414.1" cy="370.3" r="4.55" fill="#3580c2"/>
<circle cx="512.1" cy="380.0" r="4.55" fill="#419ceb"/>
<circle cx="499.5" cy="377.1" r="4.55" fill="#3f9ae7"/>
<circle cx="523.2" cy="374.7" r="4.55" fill="#429ff0"/>
<circle cx="102.8" cy="481.0" r="4.55" fill="#0c2036"/>
<circle cx="523.5" cy="382.4" r="4.55" fill="#429fef"/>
<circle cx="462.6" cy="379.4" r="4.55" fill="#3a8dd5"/>
<circle cx="148.9" cy="251.5" r="4.55" fill="#3177b6"/>
<circle cx="133.1" cy="226.9" r="4.55" fill="#3682c6"/>
<circle cx="98.3" cy="483.3" r="4.55" fill="#0b1e34"/>
<circle cx="106.3" cy="453.5" r="4.55" fill="#0f2740"/>
<circle cx="135.5" cy="232.0" r="4.55" fill="#3581c4"/>
<circle cx="108.0" cy="464.2" r="4.55" fill="#0e243c"/>
<circle cx="444.3" cy="379.4" r="4.55" fill="#3888ce"/>
<circle cx="514.7" cy="385.0" r="4.55" fill="#409ceb"/>
<circle cx="486.4" cy="384.9" r="4.55" fill="#3d93de"/>
<circle cx="236.9" cy="345.2" r="4.55" fill="#24598a"/>
<circle cx="523.8" cy="372.0" r="4.55" fill="#429fef"/>
<circle cx="141.2" cy="217.5" r="4.55" fill="#3786ca"/>
<circle cx="526.8" cy="374.4" r="4.55" fill="#419eee"/>
<circle cx="144.9" cy="382.4" r="4.55" fill="#1a4167"/>
<circle cx="243.2" cy="343.1" r="4.55" fill="#255b8c"/>
<circle cx="246.8" cy="348.7" r="4.55" fill="#255c8e"/>
<circle cx="136.6" cy="199.2" r="4.55" fill="#3a8dd6"/>
<circle cx="123.5" cy="207.9" r="4.55" fill="#398ad1"/>
<circle cx="107.0" cy="467.6" r="4.55" fill="#0d233b"/>
<circle cx="153.1" cy="252.9" r="4.55" fill="#3176b4"/>
<circle cx="165.6" cy="380.1" r="4.55" fill="#1c456d"/>
<circle cx="120.7" cy="420.1" r="4.55" fill="#133250"/>
<circle cx="130.3" cy="195.1" r="4.55" fill="#3a8dd5"/>
<circle cx="524.9" cy="370.1" r="4.55" fill="#429eee"/>
<circle cx="139.4" cy="259.9" r="4.55" fill="#3178b6"/>
<circle cx="88.9" cy="483.9" r="4.55" fill="#0b1d32"/>
<circle cx="130.5" cy="234.2" r="4.55" fill="#3580c2"/>
<circle cx="137.5" cy="385.7" r="4.55" fill="#193f65"/>
<circle cx="103.4" cy="465.4" r="4.55" fill="#0e243c"/>
<circle cx="150.1" cy="372.4" r="4.55" fill="#1b436a"/>
<circle cx="435.2" cy="371.7" r="4.55" fill="#3786cb"/>
<circle cx="136.4" cy="202.9" r="4.55" fill="#398bd3"/>
<circle cx="134.7" cy="380.1" r="4.55" fill="#1a4065"/>
<circle cx="536.4" cy="379.0" r="4.55" fill="#43a2f3"/>
<circle cx="143.6" cy="225.1" r="4.55" fill="#3581c4"/>
<circle cx="111.2" cy="442.0" r="4.55" fill="#0f2842"/>
<circle cx="173.3" cy="372.4" r="4.55" fill="#1e4a74"/>
<circle cx="196.6" cy="357.5" r="4.55" fill="#20507d"/>
<circle cx="132.8" cy="188.4" r="4.55" fill="#3b8ed6"/>
<circle cx="121.4" cy="440.2" r="4.55" fill="#102a45"/>
<circle cx="135.9" cy="227.4" r="4.55" fill="#3683c6"/>
<circle cx="87.8" cy="474.9" r="4.55" fill="#0c2036"/>
<circle cx="136.5" cy="214.4" r="4.55" fill="#3888ce"/>
<circle cx="124.4" cy="213.4" r="4.55" fill="#3888ce"/>
<circle cx="478.1" cy="385.1" r="4.55" fill="#3c92dd"/>
<circle cx="111.0" cy="455.2" r="4.55" fill="#0e253e"/>
<circle cx="155.9" cy="262.8" r="4.55" fill="#2f73b0"/>
<circle cx="92.0" cy="469.5" r="4.55" fill="#0c2036"/>
<circle cx="499.2" cy="379.5" r="4.55" fill="#3e97e3"/>
<circle cx="114.0" cy="440.6" r="4.55" fill="#0f2741"/>
<circle cx="358.1" cy="359.5" r="4.55" fill="#2d6da8"/>
<circle cx="213.0" cy="347.5" r="4.55" fill="#21527f"/>
<circle cx="139.3" cy="237.7" r="4.55" fill="#337dbd"/>
<circle cx="507.8" cy="377.5" r="4.55" fill="#409ae8"/>
<circle cx="411.9" cy="379.4" r="4.55" fill="#347fc2"/>
<circle cx="100.4" cy="451.9" r="4.55" fill="#0e253d"/>
<circle cx="94.3" cy="482.1" r="4.55" fill="#0b1e33"/>
<circle cx="160.0" cy="378.0" r="4.55" fill="#1c466d"/>
<circle cx="128.2" cy="195.2" r="4.55" fill="#3b8fd8"/>
<circle cx="143.2" cy="250.1" r="4.55" fill="#3279b8"/>
<circle cx="141.1" cy="244.5" r="4.55" fill="#337bbb"/>
<circle cx="136.7" cy="237.5" r="4.55" fill="#3580c2"/>
<circle cx="93.1" cy="479.6" r="4.55" fill="#0b1d32"/>
<circle cx="259.4" cy="345.9" r="4.55" fill="#265e91"/>
<circle cx="128.5" cy="217.9" r="4.55" fill="#3785ca"/>
<circle cx="130.7" cy="208.9" r="4.55" fill="#398ad1"/>
<circle cx="185.0" cy="366.5" r="4.55" fill="#1e4c76"/>
<circle cx="140.6" cy="379.4" r="4.55" fill="#1a4065"/>
<circle cx="155.3" cy="244.0" r="4.55" fill="#3177b6"/>
<circle cx="126.4" cy="409.2" r="4.55" fill="#153454"/>
<circle cx="223.2" cy="339.6" r="12.3" fill="#000"/>
<text x="224.6" y="348.8" font-size="24.5" fill="#fff" text-anchor="middle">1</text>
<path d="M217.3 346.3h5.6v3.2h-5.6zM226.3 346.3h5.6v3.2h-5.6z" fill="#000"/></g>
<g><path fill="none" stroke="#000" stroke-width="2.5" d="M731.5 339.6C729.3 336.7 721.5 326.1 718.4 322.0C715.3 317.9 716.1 318.9 712.8 314.9C709.5 310.9 703.4 303.9 698.7 298.0C694.0 292.1 689.3 286.2 684.6 279.7C679.9 273.2 675.3 266.5 670.6 259.2C665.9 251.9 660.2 242.9 656.5 236.0C652.8 229.1 650.7 224.0 648.3 218.0C645.9 212.0 643.3 203.0 642.3 200.0"/>
<path fill="none" stroke="#000" stroke-width="2.5" d="M731.5 339.6C734.8 340.2 744.8 342.0 751.5 343.1C758.2 344.3 764.8 345.4 771.5 346.5C778.2 347.6 784.8 348.7 791.5 349.8C798.2 350.9 804.8 351.9 811.5 352.9C818.2 353.9 824.8 355.0 831.5 355.9C838.2 356.9 844.8 357.9 851.5 358.8C858.2 359.7 864.8 360.7 871.5 361.5C878.2 362.4 884.8 363.3 891.5 364.2C898.2 365.0 904.8 365.8 911.5 366.6C918.2 367.4 924.8 368.2 931.5 369.0C938.2 369.8 944.8 370.5 951.5 371.2C958.2 371.9 964.8 372.6 971.5 373.3C978.2 374.0 984.8 374.6 991.5 375.3C998.2 375.9 1008.2 376.8 1011.5 377.1"/>
<path fill="none" stroke="#000" stroke-width="2.5" d="M731.5 339.6C728.5 341.7 718.8 348.4 713.3 352.0C707.8 355.6 703.3 358.2 698.3 361.0C693.3 363.8 688.3 366.4 683.3 369.0C678.3 371.6 672.8 374.3 668.3 376.5C663.8 378.7 660.1 379.9 656.3 382.0C652.5 384.1 648.8 385.8 645.3 389.0C641.8 392.2 638.0 396.7 635.3 401.0C632.6 405.3 631.0 410.2 629.3 415.0C627.6 419.8 626.8 425.0 625.3 430.0C623.8 435.0 622.3 440.0 620.3 445.0C618.3 450.0 615.8 455.2 613.3 460.0C610.8 464.8 606.6 471.7 605.3 474.0"/>
<circle cx="613.5" cy="459.1" r="4.55" fill="#0e253e"/>
<circle cx="656.2" cy="258.1" r="4.55" fill="#3075b3"/>
<circle cx="629.8" cy="200.9" r="4.55" fill="#3a8cd4"/>
<circle cx="788.0" cy="352.5" r="4.55" fill="#286195"/>
<circle cx="626.0" cy="447.3" r="4.55" fill="#0f2741"/>
<circle cx="638.0" cy="397.0" r="4.55" fill="#173a5c"/>
<circle cx="625.7" cy="451.6" r="4.55" fill="#0f263f"/>
<circle cx="1025.2" cy="380.0" r="4.55" fill="#419ded"/>
<circle cx="717.0" cy="331.2" r="4.55" fill="#24598a"/>
<circle cx="838.3" cy="366.7" r="4.55" fill="#2b69a1"/>
<circle cx="645.9" cy="232.9" r="4.55" fill="#3580c2"/>
<circle cx="620.6" cy="446.5" r="4.55" fill="#0f2842"/>
<circle cx="639.7" cy="232.7" r="4.55" fill="#3580c3"/>
<circle cx="630.4" cy="475.2" r="4.55" fill="#0d223a"/>
<circle cx="1010.5" cy="379.8" r="4.55" fill="#3e96e3"/>
<circle cx="635.8" cy="203.1" r="4.55" fill="#3a8cd4"/>
<circle cx="677.2" cy="375.7" r="4.55" fill="#1d4871"/>
<circle cx="619.6" cy="452.5" r="4.55" fill="#0e263f"/>
<circle cx="634.3" cy="200.5" r="4.55" fill="#3a8dd5"/>
<circle cx="631.3" cy="450.9" r="4.55" fill="#102843"/>
<circle cx="633.5" cy="432.8" r="4.55" fill="#122d4a"/>
<circle cx="656.6" cy="387.2" r="4.55" fill="#1a4168"/>
<circle cx="693.3" cy="288.7" r="4.55" fill="#2a679f"/>
<circle cx="624.3" cy="444.6" r="4.55" fill="#102944"/>
<circle cx="608.0" cy="475.8" r="4.55" fill="#0c2137"/>
<circle cx="929.1" cy="372.4" r="4.55" fill="#3682c6"/>
<circle cx="627.0" cy="396.9" r="4.55" fill="#163759"/>
<circle cx="612.7" cy="464.5" r="4.55" fill="#0d233b"/>
<circle cx="699.8" cy="363.1" r="4.55" fill="#1f4d78"/>
<circle cx="599.0" cy="482.0" r="4.55" fill="#0b1d32"/>
<circle cx="997.4" cy="377.1" r="4.55" fill="#3e96e3"/>
<circle cx="1026.4" cy="377.2" r="4.55" fill="#409cea"/>
<circle cx="653.5" cy="238.2" r="4.55" fill="#347dbf"/>
<circle cx="629.1" cy="428.1" r="4.55" fill="#122d4a"/>
<circle cx="624.8" cy="396.5" r="4.55" fill="#16385a"/>
<circle cx="697.9" cy="302.7" r="4.55" fill="#296399"/>
<circle cx="636.3" cy="431.3" r="4.55" fill="#122d4a"/>
<circle cx="671.3" cy="372.8" r="4.55" fill="#1d4770"/>
<circle cx="664.3" cy="250.9" r="4.55" fill="#3076b4"/>
<circle cx="644.2" cy="391.2" r="4.55" fill="#183c60"/>
<circle cx="618.9" cy="455.5" r="4.55" fill="#0f2741"/>
<circle cx="963.6" cy="375.9" r="4.55" fill="#398bd2"/>
<circle cx="671.8" cy="376.4" r="4.55" fill="#1c466e"/>
<circle cx="635.6" cy="388.5" r="4.55" fill="#183b5e"/>
<circle cx="645.5" cy="198.1" r="4.55" fill="#3a8dd6"/>
<circle cx="844.2" cy="364.7" r="4.55" fill="#2b6aa2"/>
<circle cx="620.5" cy="477.6" r="4.55" fill="#0c2037"/>
<circle cx="946.0" cy="367.5" r="4.55" fill="#3786cb"/>
<circle cx="665.1" cy="376.4" r="4.55" fill="#1c466e"/>
<circle cx="663.2" cy="259.0" r="4.55" fill="#3075b2"/>
<circle cx="1010.7" cy="377.3" r="4.55" fill="#3f99e6"/>
<circle cx="1013.9" cy="379.5" r="4.55" fill="#3e96e2"/>
<circle cx="709.6" cy="322.4" r="4.55" fill="#265c8f"/>
<circle cx="647.5" cy="236.8" r="4.55" fill="#347ec0"/>
<circle cx="632.8" cy="434.4" r="4.55" fill="#112c48"/>
<circle cx="608.1" cy="484.5" r="4.55" fill="#0b1e33"/>
<circle cx="994.9" cy="378.7" r="4.55" fill="#3d94e0"/>
<circle cx="620.8" cy="445.1" r="4.55" fill="#102944"/>
<circle cx="640.4" cy="389.7" r="4.55" fill="#193e63"/>
<circle cx="1007.5" cy="376.1" r="4.55" fill="#3e96e2"/>
<circle cx="629.8" cy="399.1" r="4.55" fill="#17395b"/>
<circle cx="651.1" cy="386.8" r="4.55" fill="#1a4167"/>
<circle cx="652.7" cy="251.9" r="4.55" fill="#3178b7"/>
<circle cx="830.0" cy="355.8" r="4.55" fill="#2a679f"/>
<circle cx="639.6" cy="384.6" r="4.55" fill="#183d61"/>
<circle cx="689.0" cy="286.6" r="4.55" fill="#2b6aa3"/>
<circle cx="612.3" cy="477.9" r="4.55" fill="#0c2138"/>
<circle cx="659.0" cy="263.4" r="4.55" fill="#3075b2"/>
<circle cx="627.2" cy="445.5" r="4.55" fill="#102843"/>
<circle cx="604.9" cy="460.5" r="4.55" fill="#0d233b"/>
<circle cx="645.0" cy="216.1" r="4.55" fill="#3887cd"/>
<circle cx="955.9" cy="380.8" r="4.55" fill="#3889cf"/>
<circle cx="664.4" cy="377.8" r="4.55" fill="#1c456c"/>
<circle cx="1013.7" cy="375.3" r="4.55" fill="#3f98e5"/>
<circle cx="622.9" cy="441.4" r="4.55" fill="#102a45"/>
<circle cx="632.9" cy="393.2" r="4.55" fill="#173a5c"/>
<circle cx="625.9" cy="415.7" r="4.55" fill="#133150"/>
<circle cx="664.7" cy="258.3" r="4.55" fill="#3074b1"/>
<circle cx="647.3" cy="227.6" r="4.55" fill="#3582c5"/>
<circle cx="670.2" cy="380.5" r="4.55" fill="#1c466e"/>
<circle cx="629.4" cy="433.3" r="4.55" fill="#112c48"/>
<circle cx="646.1" cy="225.2" r="4.55" fill="#3682c6"/>
<circle cx="936.1" cy="378.0" r="4.55" fill="#3684c8"/>
<circle cx="648.2" cy="249.0" r="4.55" fill="#327bbb"/>
<circle cx="660.4" cy="384.7" r="4.55" fill="#1c456d"/>
<circle cx="654.9" cy="249.0" r="4.55" fill="#337bbb"/>
<circle cx="695.5" cy="365.7" r="4.55" fill="#1f4d78"/>
<circle cx="668.9" cy="379.4" r="4.55" fill="#1c466e"/>
<circle cx="616.1" cy="447.1" r="4.55" fill="#0f2741"/>
<circle cx="631.2" cy="212.1" r="4.55" fill="#3889cf"/>
<circle cx="605.5" cy="477.1" r="4.55" fill="#0c2137"/>
<circle cx="638.7" cy="228.7" r="4.55" fill="#3683c6"/>
<circle cx="943.9" cy="378.0" r="4.55" fill="#3786cb"/>
<circle cx="620.3" cy="442.7" r="4.55" fill="#0f2741"/>
<circle cx="642.3" cy="379.8" r="4.55" fill="#1a4268"/>
<circle cx="644.0" cy="213.1" r="4.55" fill="#3786cb"/>
<circle cx="666.5" cy="374.9" r="4.55" fill="#1d4770"/>
<circle cx="688.1" cy="283.7" r="4.55" fill="#2b6aa2"/>
<circle cx="620.1" cy="449.3" r="4.55" fill="#0e263f"/>
<circle cx="614.4" cy="461.5" r="4.55" fill="#0e243d"/>
<circle cx="688.7" cy="291.7" r="4.55" fill="#2a669d"/>
<circle cx="1012.1" cy="388.2" r="4.55" fill="#3f99e7"/>
<circle cx="690.6" cy="290.3" r="4.55" fill="#29659c"/>
<circle cx="652.0" cy="221.8" r="4.55" fill="#3683c6"/>
<circle cx="649.2" cy="203.5" r="4.55" fill="#398ad0"/>
<circle cx="647.4" cy="376.4" r="4.55" fill="#1a4268"/>
<circle cx="633.1" cy="205.8" r="4.55" fill="#3a8cd4"/>
<circle cx="953.7" cy="370.3" r="4.55" fill="#3888ce"/>
<circle cx="645.8" cy="382.4" r="4.55" fill="#193f64"/>
<circle cx="630.6" cy="200.7" r="4.55" fill="#3a8dd4"/>
<circle cx="632.1" cy="431.5" r="4.55" fill="#112c48"/>
<circle cx="1019.5" cy="380.8" r="4.55" fill="#409be9"/>
<circle cx="615.3" cy="471.0" r="4.55" fill="#0d223a"/>
<circle cx="631.0" cy="210.8" r="4.55" fill="#3887cc"/>
<circle cx="601.7" cy="466.2" r="4.55" fill="#0d223a"/>
<circle cx="608.9" cy="463.0" r="4.55" fill="#0d233a"/>
<circle cx="633.1" cy="199.7" r="4.55" fill="#3a8dd6"/>
<circle cx="698.6" cy="306.8" r="4.55" fill="#286196"/>
<circle cx="643.5" cy="197.1" r="4.55" fill="#3a8dd5"/>
<circle cx="653.3" cy="244.3" r="4.55" fill="#337cbd"/>
<circle cx="999.6" cy="379.5" r="4.55" fill="#3e97e3"/>
<circle cx="649.2" cy="237.8" r="4.55" fill="#347fc1"/>
<circle cx="646.9" cy="222.4" r="4.55" fill="#3684c8"/>
<circle cx="622.1" cy="454.2" r="4.55" fill="#0f2740"/>
<circle cx="610.1" cy="472.8" r="4.55" fill="#0c2138"/>
<circle cx="638.1" cy="387.6" r="4.55" fill="#193e62"/>
<circle cx="634.8" cy="409.7" r="4.55" fill="#153454"/>
<circle cx="626.1" cy="413.2" r="4.55" fill="#143251"/>
<circle cx="611.8" cy="456.7" r="4.55" fill="#0e243c"/>
<circle cx="696.0" cy="298.6" r="4.55" fill="#296399"/>
<circle cx="942.5" cy="373.1" r="4.55" fill="#3785ca"/>
<circle cx="922.1" cy="375.9" r="4.55" fill="#3580c2"/>
<circle cx="603.4" cy="486.8" r="4.55" fill="#0b1d32"/>
<circle cx="660.5" cy="262.3" r="4.55" fill="#3074b1"/>
<circle cx="638.2" cy="215.7" r="4.55" fill="#3888ce"/>
<circle cx="646.3" cy="195.6" r="4.55" fill="#3a8cd3"/>
<circle cx="1002.1" cy="373.4" r="4.55" fill="#3e97e4"/>
<circle cx="620.0" cy="434.8" r="4.55" fill="#102a45"/>
<circle cx="663.1" cy="371.8" r="4.55" fill="#1c466f"/>
<circle cx="647.3" cy="391.7" r="4.55" fill="#183d61"/>
<circle cx="646.4" cy="201.8" r="4.55" fill="#398ad2"/>
<circle cx="628.1" cy="426.5" r="4.55" fill="#122f4c"/>
<circle cx="637.6" cy="410.2" r="4.55" fill="#153657"/>
<circle cx="1006.7" cy="371.4" r="4.55" fill="#3f99e6"/>
<circle cx="653.9" cy="388.5" r="4.55" fill="#1a4066"/>
<circle cx="1012.4" cy="386.4" r="4.55" fill="#3f99e6"/>
<circle cx="629.2" cy="411.7" r="4.55" fill="#143251"/>
<circle cx="981.9" cy="375.5" r="4.55" fill="#3c90da"/>
<circle cx="617.3" cy="461.8" r="4.55" fill="#0e253e"/>
<circle cx="1044.8" cy="372.8" r="4.55" fill="#42a0f0"/>
<circle cx="987.5" cy="380.8" r="4.55" fill="#3c92dd"/>
<circle cx="623.4" cy="447.0" r="4.55" fill="#0f2741"/>
<circle cx="681.4" cy="375.2" r="4.55" fill="#1d4973"/>
<circle cx="627.3" cy="406.8" r="4.55" fill="#143453"/>
<circle cx="598.3" cy="470.3" r="4.55" fill="#0c2138"/>
<circle cx="648.2" cy="379.1" r="4.55" fill="#1a4167"/>
<circle cx="1028.2" cy="374.4" r="4.55" fill="#429fef"/>
<circle cx="651.8" cy="245.6" r="4.55" fill="#3279b9"/>
<circle cx="643.8" cy="211.4" r="4.55" fill="#3888ce"/>
<circle cx="702.9" cy="309.9" r="4.55" fill="#286298"/>
<circle cx="654.8" cy="252.8" r="4.55" fill="#3075b3"/>
<circle cx="696.4" cy="292.4" r="4.55" fill="#29659b"/>
<circle cx="969.9" cy="385.1" r="4.55" fill="#3a8dd4"/>
<circle cx="627.6" cy="402.3" r="4.55" fill="#163758"/>
<circle cx="644.5" cy="191.2" r="4.55" fill="#3b8fd7"/>
<circle cx="634.7" cy="415.5" r="4.55" fill="#143453"/>
<circle cx="916.4" cy="377.3" r="4.55" fill="#347ebf"/>
<circle cx="750.5" cy="345.9" r="4.55" fill="#255b8c"/>
<circle cx="635.1" cy="397.1" r="4.55" fill="#16385a"/>
<circle cx="603.0" cy="472.3" r="4.55" fill="#0c2138"/>
<circle cx="705.6" cy="316.0" r="4.55" fill="#265d8f"/>
<circle cx="639.7" cy="202.1" r="4.55" fill="#3a8cd4"/>
<circle cx="648.5" cy="197.6" r="4.55" fill="#3a8cd4"/>
<circle cx="695.4" cy="366.3" r="4.55" fill="#1f4c77"/>
<circle cx="756.2" cy="347.3" r="4.55" fill="#255c8e"/>
<circle cx="643.8" cy="224.0" r="4.55" fill="#3683c6"/>
<circle cx="665.0" cy="368.3" r="4.55" fill="#1c466e"/>
<circle cx="615.2" cy="459.0" r="4.55" fill="#0e253e"/>
<circle cx="672.0" cy="273.0" r="4.55" fill="#2d6da7"/>
<circle cx="607.4" cy="458.5" r="4.55" fill="#0d233a"/>
<circle cx="642.7" cy="227.1" r="4.55" fill="#3682c6"/>
<circle cx="645.2" cy="220.2" r="4.55" fill="#3785ca"/>
<circle cx="650.2" cy="382.5" r="4.55" fill="#1b4269"/>
<circle cx="1030.2" cy="374.4" r="4.55" fill="#419eed"/>
<circle cx="638.1" cy="192.0" r="4.55" fill="#3b8fd8"/>
<circle cx="740.0" cy="348.0" r="4.55" fill="#245889"/>
<circle cx="686.8" cy="372.0" r="4.55" fill="#1e4a74"/>
<circle cx="629.4" cy="399.5" r="4.55" fill="#163758"/>
<circle cx="634.5" cy="216.0" r="4.55" fill="#3889cf"/>
<circle cx="1001.0" cy="379.2" r="4.55" fill="#3e96e2"/>
<circle cx="602.9" cy="480.9" r="4.55" fill="#0b1e33"/>
<circle cx="618.2" cy="471.0" r="4.55" fill="#0d233a"/>
<circle cx="624.3" cy="442.2" r="4.55" fill="#102943"/>
<circle cx="632.5" cy="406.9" r="4.55" fill="#153555"/>
<circle cx="1040.9" cy="375.0" r="4.55" fill="#42a1f2"/>
<circle cx="900.2" cy="373.8" r="4.55" fill="#3178b7"/>
<circle cx="983.3" cy="378.0" r="4.55" fill="#3c91db"/>
<circle cx="609.6" cy="455.6" r="4.55" fill="#0e263f"/>
<circle cx="630.7" cy="444.9" r="4.55" fill="#102843"/>
<circle cx="698.4" cy="276.1" r="4.55" fill="#2b69a2"/>
<circle cx="1043.5" cy="373.0" r="4.55" fill="#43a1f2"/>
<circle cx="908.0" cy="372.4" r="4.55" fill="#327bbb"/>
<circle cx="642.1" cy="234.6" r="4.55" fill="#3480c2"/>
<circle cx="627.6" cy="436.9" r="4.55" fill="#112b46"/>
<circle cx="645.8" cy="237.6" r="4.55" fill="#337dbe"/>
<circle cx="891.3" cy="375.8" r="4.55" fill="#3075b2"/>
<circle cx="610.0" cy="471.3" r="4.55" fill="#0c2137"/>
<circle cx="636.8" cy="383.4" r="4.55" fill="#193f65"/>
<circle cx="650.3" cy="233.7" r="4.55" fill="#347dbf"/>
<circle cx="638.7" cy="396.8" r="4.55" fill="#173a5d"/>
<circle cx="1004.2" cy="380.3" r="4.55" fill="#3f97e4"/>
<circle cx="1031.4" cy="371.0" r="4.55" fill="#429ff0"/>
<circle cx="950.2" cy="374.5" r="4.55" fill="#3887cd"/>
<circle cx="629.7" cy="432.4" r="4.55" fill="#112c49"/>
<circle cx="644.0" cy="201.2" r="4.55" fill="#398ad1"/>
<circle cx="603.7" cy="458.9" r="4.55" fill="#0e243d"/>
<circle cx="638.8" cy="210.3" r="4.55" fill="#3887cd"/>
<circle cx="874.3" cy="359.5" r="4.55" fill="#2d6faa"/>
<circle cx="668.9" cy="270.0" r="4.55" fill="#2e71ad"/>
<circle cx="967.8" cy="374.5" r="4.55" fill="#3a8cd3"/>
<circle cx="637.0" cy="234.2" r="4.55" fill="#347fc1"/>
<circle cx="686.2" cy="288.3" r="4.55" fill="#2b69a1"/>
<circle cx="660.5" cy="387.1" r="4.55" fill="#1b446b"/>
<circle cx="651.6" cy="226.5" r="4.55" fill="#3582c5"/>
<circle cx="636.6" cy="403.8" r="4.55" fill="#163758"/>
<circle cx="683.1" cy="367.0" r="4.55" fill="#1d4871"/>
<circle cx="639.5" cy="212.5" r="4.55" fill="#3889cf"/>
<circle cx="607.6" cy="462.1" r="4.55" fill="#0d233b"/>
<circle cx="712.9" cy="325.3" r="4.55" fill="#255c8e"/>
<circle cx="1034.7" cy="384.4" r="4.55" fill="#42a0f0"/>
<circle cx="648.4" cy="191.5" r="4.55" fill="#3b8ed6"/>
<circle cx="664.3" cy="381.8" r="4.55" fill="#1b436a"/>
<circle cx="638.5" cy="405.0" r="4.55" fill="#16385a"/>
<circle cx="652.6" cy="232.6" r="4.55" fill="#3580c2"/>
<circle cx="888.0" cy="362.5" r="4.55" fill="#2f73af"/>
<circle cx="650.4" cy="209.6" r="4.55" fill="#3888ce"/>
<circle cx="709.1" cy="320.6" r="4.55" fill="#265d8f"/>
<circle cx="646.8" cy="229.8" r="4.55" fill="#3580c3"/>
<circle cx="644.6" cy="391.0" r="4.55" fill="#183d61"/>
<circle cx="623.1" cy="429.0" r="4.55" fill="#112b47"/>
<circle cx="606.7" cy="479.7" r="4.55" fill="#0b1f34"/>
<circle cx="694.4" cy="292.9" r="4.55" fill="#29649a"/>
<circle cx="643.9" cy="382.1" r="4.55" fill="#1a4066"/>
<circle cx="600.6" cy="477.8" r="4.55" fill="#0c1f35"/>
<circle cx="605.8" cy="482.5" r="4.55" fill="#0c1f35"/>
<circle cx="633.2" cy="426.1" r="4.55" fill="#132f4d"/>
<circle cx="1019.7" cy="387.7" r="4.55" fill="#409be9"/>
<circle cx="878.8" cy="372.5" r="4.55" fill="#2e70ac"/>
<circle cx="1022.3" cy="385.4" r="4.55" fill="#409bea"/>
<circle cx="658.9" cy="252.7" r="4.55" fill="#3177b5"/>
<circle cx="631.5" cy="421.4" r="4.55" fill="#13304d"/>
<circle cx="1022.4" cy="375.2" r="4.55" fill="#419ceb"/>
<circle cx="947.4" cy="383.7" r="4.55" fill="#3887cc"/>
<circle cx="623.9" cy="438.0" r="4.55" fill="#102944"/>
<circle cx="984.7" cy="383.7" r="4.55" fill="#3c91dc"/>
<circle cx="639.6" cy="397.4" r="4.55" fill="#173a5c"/>
<circle cx="607.9" cy="473.6" r="4.55" fill="#0d2239"/>
<circle cx="624.0" cy="413.8" r="4.55" fill="#143352"/>
<circle cx="606.5" cy="469.7" r="4.55" fill="#0d233a"/>
<circle cx="641.0" cy="399.9" r="4.55" fill="#183b5e"/>
<circle cx="754.1" cy="343.1" r="4.55" fill="#255b8d"/>
<circle cx="666.0" cy="262.7" r="4.55" fill="#2e71ac"/>
<circle cx="641.2" cy="193.9" r="4.55" fill="#3b8ed6"/>
<circle cx="638.9" cy="186.3" r="4.55" fill="#3b90d9"/>
<circle cx="638.1" cy="229.6" r="4.55" fill="#3684c8"/>
<circle cx="977.0" cy="382.3" r="4.55" fill="#3b8fd8"/>
<circle cx="990.0" cy="381.0" r="4.55" fill="#3d93de"/>
<circle cx="1012.2" cy="373.0" r="4.55" fill="#3f99e6"/>
<circle cx="627.4" cy="421.1" r="4.55" fill="#13304d"/>
<circle cx="632.2" cy="451.7" r="4.55" fill="#0f2842"/>
<circle cx="614.3" cy="452.4" r="4.55" fill="#0f263f"/>
<circle cx="652.8" cy="374.9" r="4.55" fill="#1b4269"/>
<circle cx="617.8" cy="449.2" r="4.55" fill="#0f2741"/>
<circle cx="1045.5" cy="380.7" r="4.55" fill="#43a1f2"/>
<circle cx="830.8" cy="359.2" r="4.55" fill="#2a679f"/>
<circle cx="640.5" cy="196.4" r="4.55" fill="#3a8dd5"/>
<circle cx="623.1" cy="436.0" r="4.55" fill="#102a45"/>
<circle cx="625.8" cy="436.2" r="4.55" fill="#112b47"/>
<circle cx="637.0" cy="213.4" r="4.55" fill="#3889cf"/>
<circle cx="626.3" cy="417.2" r="4.55" fill="#13304e"/>
<circle cx="670.8" cy="268.1" r="4.55" fill="#2f72ae"/>
<circle cx="648.6" cy="383.8" r="4.55" fill="#1a4066"/>
<circle cx="659.4" cy="259.0" r="4.55" fill="#2f72af"/>
<circle cx="1007.6" cy="384.5" r="4.55" fill="#3f98e6"/>
<circle cx="640.4" cy="216.8" r="4.55" fill="#3786cb"/>
<circle cx="637.1" cy="392.5" r="4.55" fill="#173b5e"/>
<circle cx="637.4" cy="201.9" r="4.55" fill="#3b8ed7"/>
<circle cx="996.0" cy="377.3" r="4.55" fill="#3d95e0"/>
<circle cx="805.8" cy="363.0" r="4.55" fill="#29649a"/>
<circle cx="631.5" cy="414.5" r="4.55" fill="#133150"/>
<circle cx="1018.5" cy="382.8" r="4.55" fill="#409ae8"/>
<circle cx="665.9" cy="253.3" r="4.55" fill="#3076b3"/>
<circle cx="611.5" cy="478.0" r="4.55" fill="#0c2037"/>
<circle cx="651.1" cy="247.8" r="4.55" fill="#327ab9"/>
<circle cx="1034.0" cy="376.9" r="4.55" fill="#419eed"/>
<circle cx="1014.7" cy="384.9" r="4.55" fill="#3f99e7"/>
<circle cx="695.0" cy="303.8" r="4.55" fill="#286298"/>
<circle cx="648.5" cy="212.5" r="4.55" fill="#3887cd"/>
<circle cx="678.4" cy="369.8" r="4.55" fill="#1d4871"/>
<circle cx="655.7" cy="390.9" r="4.55" fill="#1b4269"/>
<circle cx="1000.9" cy="382.3" r="4.55" fill="#3e96e2"/>
<circle cx="636.0" cy="402.0" r="4.55" fill="#16385a"/>
<circle cx="642.3" cy="383.4" r="4.55" fill="#194065"/>
<circle cx="667.3" cy="371.5" r="4.55" fill="#1d4770"/>
<circle cx="666.9" cy="384.3" r="4.55" fill="#1c456d"/>
<circle cx="644.8" cy="207.6" r="4.55" fill="#3889cf"/>
<circle cx="649.6" cy="214.4" r="4.55" fill="#3786cb"/>
<circle cx="973.0" cy="381.0" r="4.55" fill="#3a8dd6"/>
<circle cx="610.2" cy="460.8" r="4.55" fill="#0d233b"/>
<circle cx="712.1" cy="328.3" r="4.55" fill="#255b8d"/>
<circle cx="624.2" cy="432.8" r="4.55" fill="#112d49"/>
<circle cx="633.6" cy="394.9" r="4.55" fill="#173a5d"/>
<circle cx="1037.4" cy="371.7" r="4.55" fill="#429ff0"/>
<circle cx="966.4" cy="380.8" r="4.55" fill="#398bd3"/>
<circle cx="675.6" cy="372.3" r="4.55" fill="#1d4870"/>
<circle cx="625.7" cy="428.8" r="4.55" fill="#112d49"/>
<circle cx="616.7" cy="466.8" r="4.55" fill="#0d2138"/>
<circle cx="1022.9" cy="382.0" r="4.55" fill="#419dec"/>
<circle cx="635.8" cy="229.3" r="4.55" fill="#3582c5"/>
<circle cx="605.6" cy="468.7" r="4.55" fill="#0d2239"/>
<circle cx="636.5" cy="207.3" r="4.55" fill="#398ad1"/>
<circle cx="644.1" cy="227.7" r="4.55" fill="#3682c6"/>
<circle cx="686.1" cy="287.6" r="4.55" fill="#2a679f"/>
<circle cx="1025.6" cy="370.0" r="4.55" fill="#409be9"/>
<circle cx="599.5" cy="477.9" r="4.55" fill="#0c1f35"/>
<circle cx="746.3" cy="349.4" r="4.55" fill="#255a8b"/>
<circle cx="1039.0" cy="379.1" r="4.55" fill="#42a0f1"/>
<circle cx="633.2" cy="411.5" r="4.55" fill="#143352"/>
<circle cx="692.1" cy="369.8" r="4.55" fill="#1e4a74"/>
<circle cx="1018.3" cy="373.0" r="4.55" fill="#419ceb"/>
<circle cx="962.2" cy="383.0" r="4.55" fill="#398ad1"/>
<circle cx="638.5" cy="223.7" r="4.55" fill="#3684c8"/>
<circle cx="666.9" cy="258.2" r="4.55" fill="#2f72af"/>
<circle cx="652.0" cy="387.7" r="4.55" fill="#1a4166"/>
<circle cx="665.7" cy="373.1" r="4.55" fill="#1c476f"/>
<circle cx="700.4" cy="364.6" r="4.55" fill="#1f4d79"/>
<circle cx="618.1" cy="441.1" r="4.55" fill="#102944"/>
<circle cx="648.3" cy="209.4" r="4.55" fill="#3786cc"/>
<circle cx="633.7" cy="196.0" r="4.55" fill="#398bd2"/>
<circle cx="654.9" cy="383.3" r="4.55" fill="#1b4269"/>
<circle cx="607.9" cy="455.9" r="4.55" fill="#0e253d"/>
<circle cx="646.2" cy="207.0" r="4.55" fill="#3888cd"/>
<circle cx="1029.2" cy="387.3" r="4.55" fill="#429fef"/>
<circle cx="629.7" cy="477.0" r="4.55" fill="#0d2239"/>
<circle cx="642.6" cy="204.6" r="4.55" fill="#3a8cd3"/>
<circle cx="641.5" cy="198.4" r="4.55" fill="#3a8dd5"/>
<circle cx="638.7" cy="204.1" r="4.55" fill="#3a8cd4"/>
<circle cx="649.6" cy="241.8" r="4.55" fill="#337cbd"/>
<circle cx="1041.2" cy="383.0" r="4.55" fill="#42a1f1"/>
<circle cx="612.9" cy="471.4" r="4.55" fill="#0d2138"/>
<circle cx="1032.7" cy="380.1" r="4.55" fill="#419eee"/>
<circle cx="1036.1" cy="380.2" r="4.55" fill="#429fef"/>
<circle cx="614.1" cy="472.9" r="4.55" fill="#0d2239"/>
<circle cx="1003.0" cy="371.0" r="4.55" fill="#3e96e3"/>
<circle cx="646.5" cy="242.1" r="4.55" fill="#337dbd"/>
<circle cx="602.6" cy="470.4" r="4.55" fill="#0d2239"/>
<circle cx="701.0" cy="304.1" r="4.55" fill="#29649a"/>
<circle cx="657.7" cy="379.1" r="4.55" fill="#1b436a"/>
<circle cx="683.7" cy="289.1" r="4.55" fill="#2b69a1"/>
<circle cx="647.4" cy="387.8" r="4.55" fill="#193e63"/>
<circle cx="603.2" cy="483.1" r="4.55" fill="#0b1e33"/>
<circle cx="1029.0" cy="379.4" r="4.55" fill="#429fef"/>
<circle cx="1021.6" cy="376.1" r="4.55" fill="#409ae8"/>
<circle cx="640.7" cy="210.9" r="4.55" fill="#3889cf"/>
<circle cx="713.2" cy="349.4" r="4.55" fill="#21507d"/>
<circle cx="813.7" cy="365.3" r="4.55" fill="#29659b"/>
<circle cx="603.1" cy="474.8" r="4.55" fill="#0c2036"/>
<circle cx="614.0" cy="467.9" r="4.55" fill="#0d2239"/>
<circle cx="1028.4" cy="372.6" r="4.55" fill="#419ceb"/>
<circle cx="1032.3" cy="374.6" r="4.55" fill="#419ceb"/>
<circle cx="744.2" cy="343.8" r="4.55" fill="#24598a"/>
<circle cx="649.0" cy="232.7" r="4.55" fill="#347fc1"/>
<circle cx="843.8" cy="360.8" r="4.55" fill="#2b6aa2"/>
<circle cx="597.8" cy="485.5" r="4.55" fill="#0b1d32"/>
<circle cx="633.2" cy="399.0" r="4.55" fill="#16395a"/>
<circle cx="716.7" cy="352.3" r="4.55" fill="#21517e"/>
<circle cx="1036.2" cy="377.8" r="4.55" fill="#429fef"/>
<circle cx="683.3" cy="283.7" r="4.55" fill="#2b6aa3"/>
<circle cx="641.6" cy="221.4" r="4.55" fill="#3785ca"/>
<circle cx="630.4" cy="418.7" r="4.55" fill="#13304e"/>
<circle cx="664.1" cy="266.1" r="4.55" fill="#2e71ad"/>
<circle cx="618.5" cy="444.1" r="4.55" fill="#102843"/>
<circle cx="643.2" cy="239.1" r="4.55" fill="#347fc1"/>
<circle cx="1007.1" cy="380.7" r="4.55" fill="#3e95e1"/>
<circle cx="651.2" cy="253.3" r="4.55" fill="#3178b7"/>
<circle cx="639.9" cy="393.3" r="4.55" fill="#183d61"/>
<circle cx="834.2" cy="368.7" r="4.55" fill="#2b68a0"/>
<circle cx="1033.4" cy="382.0" r="4.55" fill="#419dec"/>
<circle cx="1002.2" cy="377.7" r="4.55" fill="#3d95e0"/>
<circle cx="685.2" cy="285.9" r="4.55" fill="#2b68a0"/>
<circle cx="632.5" cy="402.4" r="4.55" fill="#163758"/>
<circle cx="594.5" cy="480.6" r="4.55" fill="#0b1e34"/>
<circle cx="756.9" cy="352.3" r="4.55" fill="#265c8f"/>
<circle cx="637.9" cy="433.4" r="4.55" fill="#112d49"/>
<circle cx="645.5" cy="238.7" r="4.55" fill="#347ec0"/>
<circle cx="609.0" cy="459.1" r="4.55" fill="#0e243d"/>
<circle cx="972.8" cy="376.6" r="4.55" fill="#3a8dd5"/>
<circle cx="630.3" cy="426.8" r="4.55" fill="#122e4b"/>
<circle cx="1004.5" cy="382.2" r="4.55" fill="#3f97e4"/>
<circle cx="685.1" cy="368.6" r="4.55" fill="#1e4b75"/>
<circle cx="660.5" cy="380.4" r="4.55" fill="#1b436a"/>
<circle cx="997.6" cy="380.7" r="4.55" fill="#3d94e0"/>
<circle cx="1025.0" cy="373.3" r="4.55" fill="#419eed"/>
<circle cx="759.7" cy="350.1" r="4.55" fill="#265d8f"/>
<circle cx="643.3" cy="188.2" r="4.55" fill="#3c91db"/>
<circle cx="610.1" cy="448.9" r="4.55" fill="#0f263f"/>
<circle cx="638.7" cy="185.4" r="4.55" fill="#3c91db"/>
<circle cx="674.0" cy="376.0" r="4.55" fill="#1c476f"/>
<circle cx="613.7" cy="455.0" r="4.55" fill="#0e263f"/>
<circle cx="951.6" cy="379.4" r="4.55" fill="#3888ce"/>
<circle cx="645.0" cy="396.1" r="4.55" fill="#183c60"/>
<circle cx="624.1" cy="430.5" r="4.55" fill="#112c48"/>
<circle cx="1023.0" cy="379.7" r="4.55" fill="#409bea"/>
<circle cx="654.2" cy="382.3" r="4.55" fill="#1b4369"/>
<circle cx="620.3" cy="465.6" r="4.55" fill="#0d233b"/>
<circle cx="929.8" cy="374.5" r="4.55" fill="#3683c6"/>
<circle cx="1043.1" cy="377.9" r="4.55" fill="#42a0f0"/>
<circle cx="771.0" cy="355.8" r="4.55" fill="#275f92"/>
<circle cx="650.2" cy="223.9" r="4.55" fill="#3682c5"/>
<circle cx="628.5" cy="422.9" r="4.55" fill="#122e4b"/>
<circle cx="617.8" cy="478.0" r="4.55" fill="#0c2137"/>
<circle cx="634.2" cy="406.6" r="4.55" fill="#153657"/>
<circle cx="689.0" cy="365.6" r="4.55" fill="#1f4c76"/>
<circle cx="1031.7" cy="385.1" r="4.55" fill="#419ded"/>
<circle cx="649.7" cy="232.7" r="4.55" fill="#3580c2"/>
<circle cx="629.8" cy="404.7" r="4.55" fill="#163758"/>
<circle cx="1035.7" cy="387.3" r="4.55" fill="#42a0f0"/>
<circle cx="920.6" cy="371.7" r="4.55" fill="#347fc1"/>
<circle cx="1011.6" cy="380.5" r="4.55" fill="#3f98e5"/>
<circle cx="915.7" cy="368.2" r="4.55" fill="#347dbe"/>
<circle cx="652.0" cy="238.7" r="4.55" fill="#337cbd"/>
<circle cx="640.0" cy="218.6" r="4.55" fill="#3786cb"/>
<circle cx="1024.0" cy="388.3" r="4.55" fill="#3f99e7"/>
<circle cx="1036.4" cy="374.9" r="4.55" fill="#429fef"/>
<circle cx="619.0" cy="460.6" r="4.55" fill="#0e253e"/>
<circle cx="629.2" cy="410.1" r="4.55" fill="#143251"/>
<circle cx="689.2" cy="368.1" r="4.55" fill="#1e4b75"/>
<circle cx="652.7" cy="377.6" r="4.55" fill="#1a4268"/>
<circle cx="641.7" cy="389.2" r="4.55" fill="#183d61"/>
<circle cx="662.5" cy="377.3" r="4.55" fill="#1b436a"/>
<circle cx="641.6" cy="231.5" r="4.55" fill="#3682c6"/>
<circle cx="709.7" cy="351.5" r="4.55" fill="#20507c"/>
<circle cx="625.1" cy="419.3" r="4.55" fill="#13314f"/>
<circle cx="639.3" cy="199.7" r="4.55" fill="#3a8dd6"/>
<circle cx="625.2" cy="425.4" r="4.55" fill="#122e4c"/>
<circle cx="654.3" cy="225.7" r="4.55" fill="#347fc2"/>
<circle cx="1023.2" cy="375.9" r="4.55" fill="#3f9ae7"/>
<circle cx="959.4" cy="378.7" r="4.55" fill="#398ad0"/>
<circle cx="636.4" cy="223.7" r="4.55" fill="#3785c9"/>
<circle cx="637.9" cy="386.2" r="4.55" fill="#183c60"/>
<circle cx="958.0" cy="373.8" r="4.55" fill="#3989d0"/>
<circle cx="675.8" cy="379.1" r="4.55" fill="#1c466e"/>
<circle cx="644.4" cy="222.5" r="4.55" fill="#3785c9"/>
<circle cx="611.8" cy="453.0" r="4.55" fill="#0f263f"/>
<circle cx="639.3" cy="225.2" r="4.55" fill="#3683c7"/>
<circle cx="628.4" cy="449.7" r="4.55" fill="#0f2842"/>
<circle cx="661.5" cy="255.4" r="4.55" fill="#3076b3"/>
<circle cx="604.3" cy="479.6" r="4.55" fill="#0c2036"/>
<circle cx="698.2" cy="303.8" r="4.55" fill="#286297"/>
<circle cx="692.2" cy="297.7" r="4.55" fill="#296499"/>
<circle cx="977.7" cy="384.4" r="4.55" fill="#3b8fd8"/>
<circle cx="610.5" cy="468.2" r="4.55" fill="#0d223a"/>
<circle cx="981.2" cy="375.2" r="4.55" fill="#3b90d9"/>
<circle cx="615.2" cy="465.3" r="4.55" fill="#0d243c"/>
<circle cx="657.2" cy="376.1" r="4.55" fill="#1a4268"/>
<circle cx="612.8" cy="445.0" r="4.55" fill="#0f2640"/>
<circle cx="1029.5" cy="384.2" r="4.55" fill="#419eee"/>
<circle cx="643.2" cy="386.7" r="4.55" fill="#193f65"/>
<circle cx="640.6" cy="189.8" r="4.55" fill="#3b90d9"/>
<circle cx="1015.8" cy="376.4" r="4.55" fill="#409be9"/>
<circle cx="612.1" cy="480.5" r="4.55" fill="#0c1f35"/>
<circle cx="885.8" cy="366.7" r="4.55" fill="#2f72af"/>
<circle cx="669.1" cy="377.2" r="4.55" fill="#1c466e"/>
<circle cx="903.7" cy="373.1" r="4.55" fill="#3279b8"/>
<circle cx="633.6" cy="403.0" r="4.55" fill="#16385a"/>
<circle cx="621.7" cy="465.1" r="4.55" fill="#0e243d"/>
<circle cx="1016.5" cy="382.8" r="4.55" fill="#409ae8"/>
<circle cx="677.8" cy="276.5" r="4.55" fill="#2c6ca5"/>
<circle cx="789.2" cy="357.5" r="4.55" fill="#286196"/>
<circle cx="643.5" cy="235.8" r="4.55" fill="#337cbd"/>
<circle cx="1030.4" cy="383.1" r="4.55" fill="#419dec"/>
<circle cx="651.4" cy="384.2" r="4.55" fill="#1a4268"/>
<circle cx="635.7" cy="209.6" r="4.55" fill="#3889cf"/>
<circle cx="714.7" cy="333.3" r="4.55" fill="#245a8b"/>
<circle cx="1039.0" cy="374.7" r="4.55" fill="#42a1f1"/>
<circle cx="678.6" cy="372.1" r="4.55" fill="#1e4973"/>
<circle cx="627.9" cy="438.3" r="4.55" fill="#112b47"/>
<circle cx="601.2" cy="473.5" r="4.55" fill="#0c2138"/>
<circle cx="644.1" cy="193.3" r="4.55" fill="#3b8fd8"/>
<circle cx="598.0" cy="476.2" r="4.55" fill="#0c1f35"/>
<circle cx="650.5" cy="391.2" r="4.55" fill="#193f64"/>
<circle cx="642.8" cy="218.7" r="4.55" fill="#3887cc"/>
<circle cx="648.6" cy="191.0" r="4.55" fill="#3b8fd8"/>
<circle cx="674.9" cy="273.0" r="4.55" fill="#2d6da7"/>
<circle cx="609.1" cy="468.0" r="4.55" fill="#0d223a"/>
<circle cx="1014.3" cy="381.8" r="4.55" fill="#409ae8"/>
<circle cx="699.1" cy="299.2" r="4.55" fill="#296499"/>
<circle cx="686.3" cy="369.4" r="4.55" fill="#1d4872"/>
<circle cx="700.4" cy="298.4" r="4.55" fill="#286398"/>
<circle cx="1007.1" cy="388.0" r="4.55" fill="#3f99e7"/>
<circle cx="683.5" cy="369.9" r="4.55" fill="#1e4a75"/>
<circle cx="606.6" cy="462.6" r="4.55" fill="#0d233a"/>
<circle cx="646.2" cy="382.5" r="4.55" fill="#1a4066"/>
<circle cx="657.6" cy="382.2" r="4.55" fill="#1c456c"/>
<circle cx="1041.3" cy="378.6" r="4.55" fill="#43a2f4"/>
<circle cx="614.6" cy="450.2" r="4.55" fill="#0f2740"/>
<circle cx="640.7" cy="208.1" r="4.55" fill="#3888ce"/>
<circle cx="630.0" cy="439.2" r="4.55" fill="#102843"/>
<circle cx="644.8" cy="204.7" r="4.55" fill="#3a8bd3"/>
<circle cx="731.5" cy="339.6" r="12.3" fill="#000"/>
<text x="732.9" y="348.8" font-size="24.5" fill="#fff" text-anchor="middle">1</text>
<path d="M725.6 346.3h5.6v3.2h-5.6zM734.6 346.3h5.6v3.2h-5.6z" fill="#000"/></g>
<text x="565.6" y="552.4" text-anchor="middle" class="ti">Component 1</text>
<text transform="translate(28,336.5) rotate(-90)" text-anchor="middle" class="ti">Component 2</text>
</svg>
</body></html>
